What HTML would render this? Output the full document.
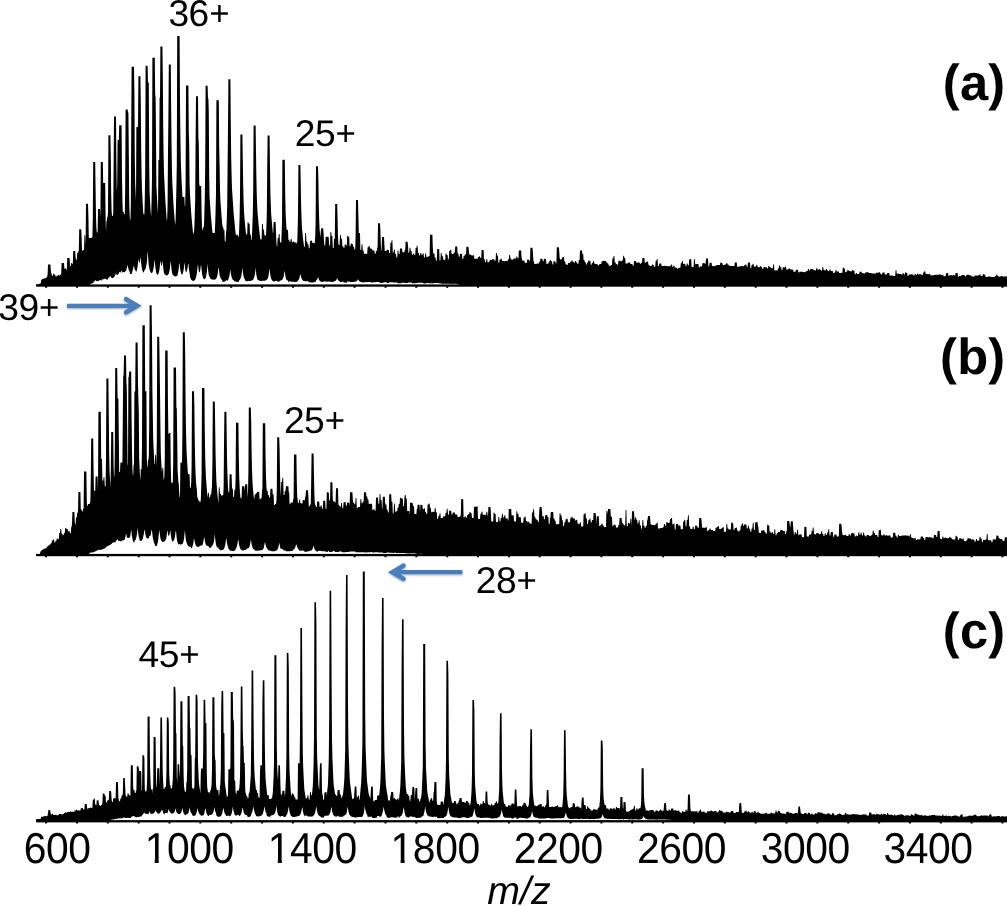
<!DOCTYPE html>
<html lang="en"><head><meta charset="utf-8"><title>Mass spectra</title><style>html,body{margin:0;padding:0;background:#fff}svg{display:block}</style></head><body><svg width="1007" height="906" viewBox="0 0 1007 906">
<defs><filter id="sh" x="-20%" y="-60%" width="140%" height="260%"><feGaussianBlur in="SourceAlpha" stdDeviation="1.2" result="b"/><feOffset in="b" dx="0" dy="1.2" result="o"/><feComponentTransfer in="o" result="o2"><feFuncA type="linear" slope="0.35"/></feComponentTransfer><feMerge><feMergeNode in="o2"/><feMergeNode in="SourceGraphic"/></feMerge></filter></defs>
<rect width="1007" height="906" fill="#fff"/>
<path d="M36.0 284.4L37.6 284.4L38.0 284.3L38.4 284.2L38.8 284.0L39.2 283.9L39.6 283.8L40.0 283.6L40.4 283.5L40.8 283.4L41.2 279.8L42.0 279.8L42.4 279.0L43.2 279.0L43.6 278.4L44.4 278.4L44.8 278.3L45.6 278.3L46.0 277.6L46.8 277.6L47.2 276.5L47.6 274.6L48.0 264.5L50.4 264.5L50.8 269.7L51.2 272.8L51.6 274.3L52.0 275.3L52.4 275.9L52.8 275.9L53.2 273.8L54.0 273.8L54.4 274.7L55.2 274.7L55.6 276.5L56.4 276.5L56.8 275.8L57.6 275.8L58.0 275.1L58.8 275.1L59.2 275.4L60.0 275.4L60.4 274.4L60.8 274.4L61.2 273.8L61.6 263.0L64.0 263.0L64.4 268.6L64.8 269.3L65.2 268.2L66.0 268.2L66.4 269.9L66.8 269.9L67.2 258.0L69.6 258.0L70.0 265.0L70.4 266.2L70.8 266.2L71.2 263.0L72.0 263.0L72.4 264.2L72.8 264.2L73.2 251.0L75.2 251.0L75.6 256.9L76.0 259.7L76.8 259.7L77.2 252.8L78.0 252.8L78.4 251.2L78.8 251.2L79.2 229.2L81.2 229.2L81.6 236.5L82.0 250.1L82.4 251.1L82.8 251.1L83.2 250.0L84.0 250.0L84.4 235.3L85.2 235.3L85.6 245.2L86.0 203.8L88.0 203.8L88.4 216.3L88.8 237.4L89.2 238.0L91.2 238.0L91.6 237.4L92.4 237.4L92.8 218.4L93.2 162.1L95.2 162.1L95.6 189.1L96.0 215.8L96.4 228.0L96.8 232.3L97.2 232.3L97.6 232.9L98.0 209.0L100.0 209.0L100.4 217.7L100.8 162.1L102.8 162.1L103.2 183.0L105.2 183.0L105.6 217.9L106.0 232.0L106.4 221.0L106.8 221.0L107.2 217.0L107.6 217.0L108.0 212.7L108.4 135.3L110.4 135.3L110.8 156.6L111.2 194.9L111.6 210.5L112.0 216.0L112.8 216.0L113.2 213.7L113.6 168.5L114.0 116.6L116.0 116.6L116.4 161.6L116.8 191.6L117.2 184.0L117.6 140.0L118.8 140.0L119.2 125.3L121.6 125.3L122.0 176.7L122.4 199.6L122.8 211.7L123.6 211.7L124.0 214.1L124.4 214.1L124.8 213.9L125.2 185.8L125.6 109.4L127.6 109.4L128.0 112.4L128.4 112.4L128.8 152.0L129.2 198.9L129.6 214.0L130.0 219.9L130.4 219.9L130.8 206.8L131.2 135.3L131.6 66.7L134.0 66.7L134.4 93.6L134.8 156.3L135.2 183.7L135.6 192.2L136.0 200.6L136.4 127.0L138.0 127.0L138.4 76.3L140.4 76.3L140.8 101.9L141.2 150.6L141.6 174.6L142.0 189.4L142.4 197.2L142.8 205.0L143.2 212.4L143.6 214.2L144.0 214.2L144.4 214.3L144.8 198.5L145.2 171.7L145.6 65.7L147.6 65.7L148.0 82.6L148.8 82.6L149.2 164.1L149.6 191.7L150.0 199.6L150.4 207.6L150.8 213.2L151.2 216.1L151.6 199.5L152.0 178.5L152.4 57.8L154.8 57.8L155.2 95.5L155.6 95.5L156.0 135.8L156.4 185.3L156.8 193.3L157.2 201.3L157.6 208.0L158.0 213.5L158.4 160.0L159.2 160.0L159.6 97.5L160.0 97.5L160.4 46.5L162.4 46.5L162.8 73.2L163.2 125.6L163.6 154.5L164.0 173.2L164.4 181.3L164.8 189.4L165.2 197.5L165.6 204.3L166.0 209.9L166.4 215.5L166.8 221.1L167.2 218.7L167.6 204.1L168.0 150.7L168.4 117.4L168.8 64.4L170.8 64.4L171.2 114.5L171.6 147.2L172.0 171.7L172.4 184.4L172.8 191.6L173.2 198.9L173.6 206.2L174.0 211.6L174.4 216.6L174.8 221.6L175.2 224.9L175.6 219.7L176.0 204.8L176.4 187.0L176.8 163.9L177.2 36.0L179.6 36.0L180.0 103.0L180.4 135.5L180.8 160.1L181.2 172.0L181.6 180.4L182.0 188.3L182.4 196.2L182.8 197.0L184.4 197.0L184.8 206.1L185.2 205.8L185.6 184.0L186.0 85.4L188.4 85.4L188.8 132.3L189.2 143.7L189.6 184.0L190.0 194.3L190.4 200.5L190.8 206.8L191.2 213.0L191.6 217.9L192.0 222.2L192.4 226.5L192.8 230.8L193.2 235.0L193.6 232.5L194.0 232.5L194.4 225.8L194.8 213.5L195.2 198.2L195.6 141.6L196.0 96.3L198.0 96.3L198.4 137.5L198.8 143.2L199.2 182.7L199.6 186.0L201.2 186.0L201.6 211.9L202.0 227.1L202.4 229.9L202.8 229.9L203.2 227.4L203.6 227.4L204.0 224.9L204.4 213.0L204.8 197.1L205.2 166.5L205.6 85.8L207.6 85.8L208.0 98.5L208.4 98.5L208.8 112.0L209.2 175.8L209.6 196.8L210.0 202.8L210.4 208.9L210.8 214.9L211.2 219.1L211.6 223.3L212.0 227.5L212.4 231.7L212.8 233.0L213.6 233.0L214.0 233.1L214.8 233.1L215.2 222.9L215.6 210.3L216.0 192.8L216.4 100.3L218.8 100.3L219.2 147.9L219.6 165.0L220.0 189.8L220.4 200.0L220.8 205.5L221.2 211.1L221.6 216.6L222.0 221.5L222.4 225.3L222.8 227.2L223.2 227.2L223.6 229.7L224.4 229.7L224.8 241.4L225.6 241.4L226.0 231.8L226.4 230.2L226.8 218.8L227.2 205.3L227.6 166.0L228.0 127.0L228.4 79.3L230.4 79.3L230.8 122.9L231.2 158.3L231.6 174.6L232.0 188.5L232.4 194.5L232.8 200.6L233.2 206.7L233.6 212.7L234.0 216.9L234.4 221.1L234.8 225.2L235.2 229.4L235.6 233.6L236.0 235.2L236.4 235.2L236.8 234.5L237.6 234.5L238.0 236.4L238.8 236.4L239.2 229.0L239.6 217.6L240.0 194.7L240.4 134.5L242.4 134.5L242.8 159.7L243.2 185.1L243.6 201.1L244.0 211.5L244.4 217.3L244.8 221.6L245.2 226.0L245.6 230.3L246.0 233.6L246.4 234.4L247.2 234.4L247.6 222.3L248.4 222.3L248.8 223.7L249.6 223.7L250.0 234.6L250.8 234.6L251.2 239.9L251.6 239.9L252.0 234.8L252.4 225.3L252.8 213.4L253.2 189.1L253.6 125.6L255.6 125.6L256.0 152.1L256.4 178.6L256.8 195.7L257.2 206.6L257.6 213.0L258.0 217.5L258.4 222.1L258.8 226.6L259.2 230.4L259.6 233.6L260.0 236.7L260.4 239.8L260.8 239.3L261.6 239.3L262.0 223.9L262.8 223.9L263.2 229.7L264.0 229.7L264.4 235.3L265.2 235.3L265.6 235.6L266.0 235.6L266.4 227.0L266.8 215.4L267.2 170.1L267.6 135.5L269.6 135.5L270.0 167.1L270.4 192.8L270.8 204.6L271.2 214.7L271.6 219.1L272.0 223.5L272.4 227.9L272.8 232.3L273.2 233.3L273.6 222.0L275.6 222.0L276.0 232.0L276.4 241.6L276.8 246.4L277.2 246.4L277.6 238.3L278.4 238.3L278.8 234.0L279.6 234.0L280.0 242.3L280.8 242.3L281.2 243.5L281.6 234.6L282.0 222.8L282.4 159.8L284.8 159.8L285.2 192.4L285.6 211.7L286.0 220.8L286.4 227.5L286.8 229.8L287.2 230.1L288.0 230.1L288.4 239.7L289.2 239.7L289.6 241.8L290.4 241.8L290.8 239.1L291.6 239.1L292.0 242.2L292.8 242.2L293.2 241.5L294.0 241.5L294.4 242.5L295.2 242.5L295.6 242.6L296.4 242.6L296.8 243.9L297.2 242.3L297.6 232.4L298.0 213.9L298.4 164.9L300.4 164.9L300.8 185.9L301.2 208.0L301.6 219.8L302.0 228.5L302.4 232.3L302.8 236.1L303.2 239.9L303.6 243.3L304.0 245.9L304.4 247.1L304.8 247.1L305.2 232.9L306.0 232.9L306.4 241.5L307.2 241.5L307.6 244.2L308.4 244.2L308.8 248.3L309.6 248.3L310.0 241.1L310.8 241.1L311.2 240.6L312.0 240.6L312.4 242.9L313.2 242.9L313.6 243.0L314.8 243.0L315.2 236.8L315.6 222.3L316.0 166.3L318.0 166.3L318.4 179.5L318.8 205.6L319.2 219.9L319.6 229.2L320.0 233.2L320.4 237.3L320.8 231.4L321.2 228.3L323.2 228.3L323.6 233.5L324.0 240.0L324.4 245.6L325.2 245.6L325.6 237.3L326.0 236.8L328.4 236.8L328.8 238.8L329.2 245.6L330.0 245.6L330.4 232.1L331.2 232.1L331.6 236.0L332.4 236.0L332.8 247.9L333.6 247.9L334.0 239.1L334.4 239.1L334.8 238.5L335.2 204.1L337.2 204.1L337.6 219.5L338.0 236.6L338.4 243.5L338.8 245.1L339.6 245.1L340.0 234.9L340.8 234.9L341.2 238.7L342.0 238.7L342.4 246.2L343.2 246.2L343.6 247.7L344.4 247.7L344.8 244.3L345.6 244.3L346.0 245.5L346.8 245.5L347.2 236.1L348.0 236.1L348.4 236.7L349.2 236.7L349.6 246.2L350.4 246.2L350.8 243.6L351.6 243.6L352.0 243.9L352.8 243.9L353.2 246.7L354.0 246.7L354.4 249.4L355.2 249.4L355.6 236.4L356.0 200.1L358.0 200.1L358.4 216.5L358.8 232.8L359.2 233.0L360.0 233.0L360.4 250.0L361.2 250.0L361.6 244.3L362.4 244.3L362.8 250.4L363.6 250.4L364.0 253.8L366.0 253.8L366.4 253.9L367.2 253.9L367.6 247.3L368.4 247.3L368.8 245.9L369.6 245.9L370.0 248.5L370.8 248.5L371.2 248.7L372.0 248.7L372.4 250.5L373.2 250.5L373.6 250.6L374.4 250.6L374.8 253.7L375.6 253.7L376.0 251.0L376.8 251.0L377.2 247.6L377.6 247.6L378.0 223.3L380.0 223.3L380.4 229.9L380.8 243.1L381.2 250.6L381.6 250.6L382.0 237.0L384.0 237.0L384.4 244.7L384.8 250.9L385.2 250.9L385.6 251.1L386.4 251.1L386.8 249.8L387.6 249.8L388.0 250.0L388.8 250.0L389.2 252.9L390.0 252.9L390.4 243.1L391.2 243.1L391.6 240.2L392.4 240.2L392.8 252.6L393.6 252.6L394.0 249.4L394.8 249.4L395.2 254.1L396.0 254.1L396.4 257.6L397.2 257.6L397.6 250.5L398.4 250.5L398.8 253.9L399.6 253.9L400.0 248.5L400.8 248.5L401.2 248.5L402.0 248.5L402.4 252.2L403.2 252.2L403.6 252.3L404.4 252.3L404.8 250.0L405.2 250.0L405.6 241.8L407.6 241.8L408.0 245.4L408.4 252.7L409.2 252.7L409.6 247.8L410.4 247.8L410.8 251.0L411.6 251.0L412.0 254.8L412.8 254.8L413.2 253.4L414.0 253.4L414.4 254.9L415.2 254.9L415.6 247.9L416.4 247.9L416.8 245.7L417.6 245.7L418.0 252.9L418.8 252.9L419.2 255.6L420.0 255.6L420.4 252.9L421.2 252.9L421.6 255.1L422.4 255.1L422.8 253.2L423.6 253.2L424.0 257.6L424.8 257.6L425.2 253.5L426.0 253.5L426.4 256.9L427.2 256.9L427.6 256.8L428.4 256.8L428.8 256.0L429.6 256.0L430.0 234.8L432.4 234.8L432.8 247.1L433.2 253.3L433.6 253.4L434.4 253.4L434.8 257.5L435.6 257.5L436.0 260.8L436.8 260.8L437.2 249.0L438.0 249.0L438.4 249.1L439.2 249.1L439.6 260.6L440.4 260.6L440.8 253.1L441.6 253.1L442.0 256.0L442.8 256.0L443.2 259.6L444.0 259.6L444.4 260.1L445.2 260.1L445.6 253.4L446.4 253.4L446.8 254.9L447.6 254.9L448.0 259.2L448.8 259.2L449.2 251.0L450.0 251.0L450.4 249.8L451.2 249.8L451.6 253.9L452.4 253.9L452.8 253.9L453.6 253.9L454.0 252.5L454.8 252.5L455.2 246.4L456.0 246.4L456.4 246.4L457.2 246.4L457.6 253.6L458.4 253.6L458.8 256.8L459.6 256.8L460.0 253.8L460.8 253.8L461.2 253.9L462.0 253.9L462.4 259.1L463.2 259.1L463.6 256.3L464.4 256.3L464.8 254.4L465.6 254.4L466.0 254.1L466.4 246.7L468.4 246.7L468.8 249.7L469.2 254.9L469.6 254.2L470.4 254.2L470.8 255.3L471.6 255.3L472.0 255.6L472.8 255.6L473.2 255.2L474.0 255.2L474.4 259.1L475.2 259.1L475.6 258.5L476.4 258.5L476.8 258.7L477.6 258.7L478.0 257.1L478.8 257.1L479.2 256.3L480.0 256.3L480.4 258.0L481.2 258.0L481.6 250.1L482.4 250.1L482.8 250.1L483.6 250.1L484.0 259.3L484.8 259.3L485.2 262.2L486.0 262.2L486.4 259.1L487.2 259.1L487.6 262.5L488.4 262.5L488.8 261.4L489.6 261.4L490.0 259.8L492.0 259.9L492.4 259.0L493.2 259.0L493.6 259.5L494.4 259.5L494.8 260.7L495.6 260.7L496.0 253.0L496.8 253.0L497.2 255.8L498.0 255.8L498.4 262.7L499.2 262.7L499.6 259.7L500.4 259.7L500.8 258.4L501.6 258.4L502.0 260.9L504.0 260.9L504.4 261.3L505.2 261.3L505.6 261.0L507.6 261.0L508.0 259.2L508.8 259.2L509.2 254.8L510.0 254.8L510.4 258.5L511.2 258.5L511.6 260.0L512.4 260.0L512.8 259.2L513.6 259.2L514.0 258.6L516.0 258.6L516.4 256.5L517.2 256.5L517.6 258.6L518.4 258.6L518.8 250.6L521.2 250.6L521.6 258.1L522.0 259.1L522.4 260.8L523.2 260.8L523.6 260.4L524.4 260.4L524.8 262.8L526.8 262.9L527.2 259.6L529.2 259.7L529.6 261.2L530.0 261.2L530.4 247.7L532.4 247.7L532.8 250.6L533.2 257.2L533.6 261.7L534.0 261.7L534.4 263.9L536.4 263.9L536.8 263.5L538.8 263.6L539.2 261.7L540.0 261.7L540.4 258.7L541.2 258.7L541.6 258.8L542.4 258.8L542.8 261.3L543.6 261.3L544.0 258.8L544.8 258.8L545.2 258.9L546.0 258.9L546.4 263.8L548.4 263.8L548.8 261.4L549.6 261.4L550.0 259.9L550.8 259.9L551.2 261.2L552.0 261.2L552.4 264.6L553.2 264.6L553.6 261.1L554.4 261.1L554.8 261.8L555.6 261.8L556.0 264.1L556.4 263.1L556.8 247.3L558.8 247.3L559.2 250.3L559.6 257.0L560.0 259.4L560.4 259.4L560.8 259.5L561.6 259.5L562.0 257.4L562.8 257.4L563.2 256.9L564.0 256.9L564.4 261.4L565.2 261.4L565.6 264.2L566.4 264.2L566.8 264.9L567.6 264.9L568.0 262.9L570.0 262.9L570.4 261.8L571.2 261.8L571.6 260.5L572.4 260.5L572.8 261.7L573.6 261.7L574.0 262.7L574.8 262.7L575.2 261.0L576.0 261.0L576.4 262.5L577.2 262.5L577.6 264.0L578.4 264.0L578.8 260.0L579.6 260.0L580.0 250.6L582.0 250.6L582.4 254.0L583.2 254.0L583.6 260.1L584.4 260.1L584.8 262.1L585.6 262.1L586.0 264.5L586.8 264.5L587.2 262.5L588.0 262.5L588.4 260.5L589.2 260.5L589.6 261.0L590.4 261.0L590.8 264.7L591.6 264.7L592.0 263.1L592.8 263.1L593.2 261.3L594.0 261.3L594.4 263.7L595.2 263.7L595.6 264.0L596.4 264.0L596.8 264.3L597.6 264.3L598.0 265.4L598.8 265.4L599.2 264.2L600.0 264.2L600.4 263.9L601.2 263.9L601.6 261.6L602.4 261.6L602.8 260.8L603.6 260.8L604.0 261.0L606.0 261.1L606.4 262.4L607.2 262.4L607.6 263.5L608.4 263.5L608.8 265.7L610.8 265.8L611.2 265.0L612.0 265.0L612.4 258.4L613.2 258.4L613.6 256.1L614.4 256.1L614.8 262.6L615.6 262.6L616.0 263.9L616.8 263.9L617.2 264.8L618.0 264.8L618.4 260.8L620.4 260.8L620.8 261.2L621.6 261.2L622.0 260.4L622.8 260.4L623.2 255.8L624.0 255.8L624.4 258.0L625.2 258.0L625.6 263.5L627.6 263.6L628.0 262.5L630.0 262.5L630.4 264.1L632.4 264.1L632.8 265.8L633.6 265.8L634.0 260.9L634.8 260.9L635.2 261.3L636.0 261.3L636.4 262.7L637.2 262.7L637.6 262.6L638.4 262.6L638.8 262.4L639.6 262.4L640.0 263.7L640.8 263.7L641.2 262.8L642.0 262.8L642.4 258.0L643.2 258.0L643.6 258.0L644.4 258.0L644.8 262.7L645.6 262.7L646.0 262.0L646.8 262.0L647.2 261.6L648.0 261.6L648.4 264.8L649.2 264.8L649.6 265.9L651.6 265.9L652.0 264.5L652.8 264.5L653.2 265.2L654.0 265.2L654.4 267.1L655.2 267.1L655.6 261.1L656.4 261.1L656.8 259.1L657.6 259.1L658.0 266.1L658.8 266.1L659.2 263.6L661.2 263.6L661.6 266.0L663.6 266.0L664.0 265.7L664.8 265.7L665.2 266.1L668.8 266.2L669.6 266.2L670.0 265.8L670.8 265.8L671.2 264.6L672.0 264.6L672.4 267.1L673.2 267.1L673.6 265.6L674.4 265.6L674.8 267.4L675.6 267.4L676.0 267.8L676.8 267.8L677.2 268.8L678.0 268.8L678.4 268.1L679.2 268.1L679.6 267.7L680.4 267.7L680.8 263.2L681.6 263.2L682.0 260.9L682.8 260.9L683.2 264.0L684.0 264.0L684.4 263.8L685.2 263.8L685.6 265.9L686.4 265.9L686.8 263.5L687.6 263.5L688.0 265.3L688.8 265.3L689.2 259.5L690.0 259.5L690.4 259.0L691.2 259.0L691.6 267.1L693.6 267.1L694.0 259.2L694.8 259.2L695.2 264.3L696.0 264.3L696.4 264.1L698.4 264.1L698.8 267.5L699.6 267.5L700.0 266.2L700.8 266.2L701.2 266.5L702.0 266.5L702.4 263.2L703.2 263.2L703.6 263.0L704.4 263.0L704.8 263.7L705.6 263.7L706.0 258.6L706.8 258.6L707.2 258.5L708.0 258.5L708.4 266.3L709.2 266.3L709.6 262.8L710.4 262.8L710.8 262.7L711.6 262.7L712.0 266.0L712.8 266.0L713.2 266.2L714.0 266.2L714.4 266.0L715.2 266.0L715.6 265.5L716.4 265.5L716.8 265.1L717.6 265.1L718.0 265.0L718.8 265.0L719.2 264.9L720.0 264.9L720.4 262.4L721.2 262.4L721.6 263.0L722.4 263.0L722.8 265.2L723.6 265.2L724.0 264.7L724.8 264.7L725.2 264.6L726.0 264.6L726.4 262.9L727.2 262.9L727.6 264.4L728.4 264.4L728.8 265.6L729.6 265.6L730.0 266.0L733.2 266.0L733.6 266.1L734.4 266.1L734.8 262.4L735.6 262.4L736.0 262.5L736.8 262.5L737.2 267.1L738.0 267.1L738.4 266.5L739.2 266.5L739.6 266.6L740.4 266.6L740.8 265.9L742.8 265.9L743.2 266.3L744.0 266.3L744.4 265.0L745.2 265.0L745.6 264.6L746.4 264.6L746.8 266.7L747.6 266.7L748.0 262.5L748.8 262.5L749.2 262.6L750.0 262.6L750.4 268.2L751.2 268.2L751.6 265.1L752.4 265.1L752.8 263.7L753.6 263.7L754.0 266.7L754.8 266.7L755.2 266.5L756.0 266.5L756.4 264.8L757.2 264.8L757.6 267.1L758.4 267.1L758.8 267.2L759.6 267.2L760.0 266.2L760.8 266.2L761.2 267.0L762.0 267.0L762.4 268.9L763.2 268.9L763.6 266.9L764.4 266.9L764.8 267.2L765.6 267.2L766.0 267.3L766.8 267.3L767.2 268.4L768.0 268.4L768.4 265.9L769.2 265.9L769.6 267.0L770.4 267.0L770.8 268.0L771.6 268.0L772.0 268.3L772.8 268.3L773.2 264.6L774.0 264.6L774.4 270.5L775.2 270.5L775.6 270.3L776.4 270.3L776.8 270.4L777.6 270.4L778.0 268.2L778.8 268.2L779.2 265.5L780.0 265.5L780.4 267.2L781.2 267.2L781.6 270.2L782.4 270.2L782.8 267.3L783.6 267.3L784.0 267.5L784.8 267.5L785.2 266.6L786.0 266.6L786.4 269.8L787.2 269.8L787.6 269.3L788.4 269.3L788.8 268.2L789.6 268.2L790.0 269.3L790.8 269.3L791.2 269.6L792.0 269.6L792.4 269.7L793.2 269.7L793.6 272.1L794.4 272.1L794.8 271.6L795.6 271.6L796.0 269.7L796.8 269.7L797.2 269.8L798.0 269.8L798.4 272.5L799.2 272.5L799.6 271.7L802.8 271.7L803.2 272.1L805.2 272.2L805.6 271.6L806.4 271.6L806.8 271.0L807.6 271.0L808.0 268.9L808.8 268.9L809.2 270.4L810.0 270.4L810.4 269.0L811.2 269.0L811.6 269.0L812.4 269.0L812.8 269.6L813.6 269.6L814.0 270.3L814.8 270.3L815.2 270.4L816.0 270.4L816.4 267.9L817.2 267.9L817.6 269.9L818.4 269.9L818.8 269.0L819.6 269.0L820.0 269.8L820.8 269.8L821.2 270.8L822.0 270.8L822.4 267.0L823.2 267.0L823.6 270.1L824.4 270.1L824.8 270.4L825.6 270.4L826.0 269.0L826.8 269.0L827.2 270.4L828.0 270.4L828.4 271.2L829.2 271.2L829.6 269.2L830.4 269.2L830.8 271.1L831.6 271.1L832.0 271.0L832.8 271.0L833.2 272.9L834.0 272.9L834.4 272.4L835.2 272.4L835.6 269.9L836.4 269.9L836.8 271.4L838.8 271.4L839.2 272.9L840.0 272.9L840.4 273.0L841.2 273.0L841.6 272.7L842.4 272.7L842.8 267.4L843.6 267.4L844.0 268.6L844.8 268.6L845.2 272.2L846.0 272.2L846.4 271.4L847.2 271.4L847.6 269.7L848.4 269.7L848.8 271.0L849.6 271.0L850.0 271.2L850.8 271.2L851.2 271.3L852.0 271.3L852.4 270.0L853.2 270.0L853.6 270.8L854.4 270.8L854.8 274.3L855.6 274.3L856.0 273.1L856.8 273.1L857.2 273.9L858.0 273.9L858.4 274.1L859.2 274.1L859.6 271.7L860.4 271.7L860.8 271.8L861.6 271.8L862.0 273.2L862.8 273.2L863.2 273.3L864.0 273.3L864.4 273.5L865.2 273.5L865.6 272.3L866.4 272.3L866.8 272.3L867.6 272.3L868.0 272.6L868.8 272.6L869.2 273.0L870.0 273.0L870.4 273.0L871.2 273.0L871.6 273.4L872.4 273.4L872.8 273.5L873.6 273.5L874.0 273.4L874.8 273.4L875.2 273.4L876.0 273.4L876.4 272.5L877.2 272.5L877.6 273.0L878.4 273.0L878.8 272.0L879.6 272.0L880.0 273.4L880.8 273.4L881.2 274.4L882.0 274.4L882.4 272.7L883.2 272.7L883.6 272.2L884.4 272.2L884.8 274.4L886.8 274.5L887.2 272.9L888.0 272.9L888.4 273.0L889.2 273.0L889.6 275.4L892.8 275.4L893.2 275.9L895.2 275.9L895.6 270.3L896.4 270.3L896.8 273.7L897.6 273.7L898.0 273.5L898.8 273.5L899.2 273.9L900.0 273.9L900.4 274.1L901.2 274.1L901.6 274.8L902.4 274.8L902.8 273.0L903.6 273.0L904.0 274.4L904.8 274.4L905.2 272.3L906.0 272.3L906.4 273.0L907.2 273.0L907.6 275.9L908.4 275.9L908.8 274.4L910.8 274.4L911.2 274.3L912.0 274.3L912.4 274.4L913.2 274.4L913.6 275.4L914.4 275.4L914.8 273.9L915.6 273.9L916.0 274.9L916.8 274.9L917.2 273.5L918.0 273.5L918.4 274.5L919.2 274.5L919.6 274.1L920.4 274.1L920.8 274.4L921.6 274.4L922.0 275.1L922.8 275.1L923.2 272.6L924.0 272.6L924.4 271.2L925.2 271.2L925.6 273.7L926.4 273.7L926.8 274.1L927.6 274.1L928.0 274.2L928.8 274.2L929.2 274.1L930.0 274.1L930.4 275.2L931.2 275.2L931.6 275.4L932.4 275.4L932.8 275.3L933.6 275.3L934.0 274.9L934.8 274.9L935.2 274.7L937.2 274.7L937.6 274.8L938.4 274.8L938.8 274.5L940.8 274.5L941.2 275.3L942.0 275.3L942.4 274.8L943.2 274.8L943.6 276.3L945.6 276.3L946.0 273.2L946.8 273.2L947.2 273.0L948.0 273.0L948.4 275.8L949.2 275.8L949.6 275.3L950.4 275.3L950.8 274.9L951.6 274.9L952.0 275.6L952.8 275.6L953.2 274.7L954.0 274.7L954.4 275.6L955.2 275.6L955.6 273.1L957.6 273.1L958.0 276.7L958.8 276.7L959.2 276.0L961.2 276.1L961.6 275.1L962.4 275.1L962.8 274.9L963.6 274.9L964.0 275.2L964.8 275.2L965.2 276.6L966.0 276.6L966.4 275.0L967.2 275.0L967.6 274.4L968.4 274.4L968.8 275.3L970.8 275.3L971.2 276.2L972.0 276.2L972.4 276.4L973.2 276.4L973.6 276.7L974.4 276.7L974.8 275.5L975.6 275.5L976.0 275.6L978.0 275.7L978.4 275.3L979.2 275.3L979.6 274.6L980.4 274.6L980.8 276.1L981.6 276.1L982.0 275.8L982.8 275.8L983.2 274.1L984.0 274.1L984.4 274.7L985.2 274.7L985.6 277.0L987.6 277.0L988.0 276.6L988.8 276.6L989.2 276.5L990.0 276.5L990.4 276.8L991.2 276.8L991.6 277.1L992.4 277.1L992.8 276.9L994.8 276.9L995.2 275.9L996.0 275.9L996.4 274.6L997.2 274.6L997.6 276.1L998.4 276.1L998.8 276.8L999.6 276.8L1000.0 276.4L1000.8 276.4L1001.2 276.1L1002.0 276.1L1002.4 276.5L1004.4 276.5L1004.8 276.4L1006.8 276.4L1007.2 276.2L1007.2 286.0L458.8 286.0L458.4 283.9L457.6 283.9L457.2 283.9L455.2 283.8L454.8 283.7L454.0 283.7L453.6 283.7L452.8 283.7L452.4 283.9L450.0 283.8L449.2 283.8L448.8 283.7L445.6 283.7L445.2 283.7L442.8 283.7L442.0 283.7L441.6 283.5L439.6 283.5L439.2 283.1L437.2 283.0L436.8 283.0L433.6 283.0L433.2 283.5L432.4 283.5L432.0 283.3L428.8 283.3L428.4 283.0L426.4 283.0L426.0 283.5L424.0 283.5L423.6 283.2L422.8 283.2L422.4 282.8L418.0 282.8L417.6 283.0L415.6 283.0L415.2 283.3L412.0 283.3L411.6 282.6L410.8 282.6L410.4 282.6L408.4 282.6L408.0 282.9L407.2 282.9L406.8 283.1L404.8 283.1L404.4 282.8L402.4 282.8L402.0 282.9L401.2 282.9L400.8 283.2L397.6 283.2L397.2 282.6L394.0 282.6L393.6 282.5L392.8 282.5L392.4 282.3L389.2 282.3L388.8 282.9L388.0 282.9L387.6 283.0L386.8 283.0L386.4 282.3L384.4 282.3L384.0 282.6L383.2 282.6L382.8 282.9L379.6 282.8L379.2 282.0L376.0 282.0L375.6 282.3L373.6 282.3L373.2 282.6L371.2 282.6L370.8 281.9L367.6 281.9L367.2 282.3L366.4 282.3L366.0 282.0L365.2 282.0L364.8 282.3L364.0 282.3L363.6 282.4L362.4 282.3L361.6 282.3L361.2 282.0L360.8 281.9L360.4 281.8L360.0 281.6L359.6 281.4L359.2 281.1L358.8 280.6L358.4 279.9L358.0 279.0L357.6 279.9L357.2 280.5L356.8 280.9L356.4 281.2L356.0 281.5L355.6 281.6L355.2 281.7L354.8 281.8L354.4 281.8L354.0 282.1L352.4 282.1L349.6 282.1L349.2 281.6L347.2 281.5L346.8 282.8L346.0 282.8L345.6 282.5L343.6 282.5L343.2 281.6L342.4 281.6L342.0 282.1L341.2 282.1L340.8 282.0L340.4 281.9L340.0 281.8L339.6 281.5L339.2 281.3L338.8 281.0L338.4 280.6L338.0 280.0L337.6 279.2L337.2 277.9L336.8 279.1L336.4 279.8L336.0 280.4L335.6 280.7L335.2 281.0L334.8 281.2L334.4 281.3L334.0 281.4L333.6 281.8L332.8 281.9L331.6 281.9L331.2 281.8L329.2 281.8L328.8 281.6L328.0 281.6L327.6 281.8L326.8 281.8L326.4 281.5L323.6 281.5L323.2 281.5L322.8 282.0L322.0 281.9L321.6 281.8L321.2 281.7L320.8 281.6L320.4 281.5L320.0 281.2L319.6 280.8L319.2 280.1L318.8 279.2L318.4 277.8L318.0 276.9L317.6 278.4L317.2 279.5L316.8 279.8L316.4 280.3L316.0 280.6L315.6 282.0L315.2 282.2L314.8 282.3L314.4 282.1L314.0 282.2L313.6 282.2L313.2 282.5L311.2 282.6L310.8 282.3L310.0 282.3L309.6 282.2L308.8 282.2L308.4 281.3L306.4 281.2L306.0 281.3L305.2 281.3L304.8 281.2L304.4 281.1L304.0 281.0L303.6 280.9L303.2 280.7L302.8 280.4L302.4 279.8L302.0 279.3L301.6 278.5L301.2 277.3L300.8 275.7L300.4 273.4L300.0 275.7L299.6 277.3L299.2 278.5L298.8 279.5L298.4 280.1L298.0 280.5L297.6 281.3L297.2 281.5L296.8 281.7L296.4 281.9L296.0 282.0L295.2 282.0L294.4 282.1L294.0 281.7L290.8 281.7L290.4 281.2L289.6 281.1L289.2 282.2L288.8 282.1L288.4 282.0L288.0 280.7L287.6 280.5L287.2 280.1L286.8 280.4L286.4 279.6L286.0 278.6L285.6 277.0L285.2 274.8L284.8 271.6L284.4 271.6L284.0 274.8L283.6 277.1L283.2 277.7L282.8 278.7L282.4 279.4L282.0 279.8L281.6 280.2L281.2 280.4L280.8 280.5L280.4 280.6L280.0 280.7L279.6 281.5L278.8 281.6L278.4 281.7L277.6 281.7L277.2 280.9L275.2 280.8L274.8 281.6L274.4 281.5L274.0 281.5L273.6 281.4L273.2 281.2L272.8 281.0L272.4 280.7L272.0 280.2L271.6 279.6L271.2 278.8L270.8 277.4L270.4 275.5L270.0 272.7L269.6 268.8L269.2 270.9L268.8 274.3L268.4 276.6L268.0 278.2L267.6 278.5L267.2 279.2L266.8 279.7L266.4 280.1L266.0 280.3L265.6 280.5L265.2 280.6L264.8 280.7L264.4 280.7L262.0 280.8L261.6 281.1L260.8 281.1L260.4 280.9L260.0 280.8L259.6 280.7L259.2 280.6L258.8 280.3L258.4 280.0L258.0 280.4L257.6 279.7L257.2 278.6L256.8 277.1L256.4 275.0L256.0 271.9L255.6 267.5L255.2 271.9L254.8 275.0L254.4 276.4L254.0 277.8L253.6 278.7L253.2 279.4L252.8 279.9L252.4 280.2L252.0 280.4L251.6 280.5L251.2 280.6L250.8 280.9L250.0 281.0L247.6 281.0L247.2 281.4L246.8 281.3L246.4 281.2L246.0 281.0L245.6 280.8L245.2 280.5L244.8 279.3L244.4 278.6L244.0 277.7L243.6 276.3L243.2 274.4L242.8 271.6L242.4 267.5L242.0 271.6L241.6 274.4L241.2 276.5L240.8 277.8L240.4 278.8L240.0 279.5L239.6 279.9L239.2 280.2L238.8 281.7L238.4 281.9L238.0 282.0L237.6 282.1L236.8 282.2L236.4 281.6L235.2 281.5L234.8 281.5L234.4 281.4L234.0 280.5L233.6 280.3L233.2 280.1L232.8 279.7L232.4 279.1L232.0 278.3L231.6 277.1L231.2 275.3L230.8 272.9L230.4 269.4L230.0 271.5L229.6 274.7L229.2 276.7L228.8 278.1L228.4 279.2L228.0 279.9L227.6 280.4L227.2 280.7L226.8 280.2L226.4 280.3L226.0 280.4L225.6 280.9L224.8 280.9L224.4 282.0L223.6 281.9L223.2 281.8L222.8 281.7L222.4 281.5L222.0 279.9L221.6 279.6L221.2 279.2L220.8 278.5L220.4 277.6L220.0 276.3L219.6 274.9L219.2 272.1L218.8 268.0L218.4 267.9L218.0 271.7L217.6 274.4L217.2 276.2L216.8 277.4L216.4 278.3L216.0 278.9L215.6 279.3L215.2 279.6L214.8 279.4L214.4 279.6L214.0 279.7L212.8 279.6L212.4 279.5L212.0 279.5L211.6 279.3L211.2 279.2L210.8 278.9L210.4 278.5L210.0 277.9L209.6 277.1L209.2 275.9L208.8 275.2L208.4 272.6L208.0 268.9L207.6 263.5L207.2 268.8L206.8 272.5L206.4 275.0L206.0 276.8L205.6 277.9L205.2 278.7L204.8 279.1L204.4 279.3L204.0 279.1L203.6 278.8L203.2 278.1L202.8 277.1L202.4 275.6L202.0 273.4L201.6 269.6L201.2 265.5L200.8 265.4L200.4 269.2L200.0 271.4L199.6 272.3L199.2 272.6L198.8 271.3L198.4 268.5L198.0 264.0L197.6 266.7L197.2 270.8L196.8 273.8L196.4 275.8L196.0 277.3L195.6 278.9L195.2 279.6L194.8 280.1L194.4 280.5L194.0 280.7L193.6 280.9L192.8 280.8L192.4 280.7L192.0 280.3L191.6 280.0L191.2 279.7L190.8 278.7L190.4 277.9L190.0 276.8L189.6 273.3L189.2 271.2L188.8 268.3L188.4 264.1L188.0 264.1L187.6 267.8L187.2 270.0L186.8 271.3L186.4 271.7L186.0 272.5L185.6 271.2L185.2 268.8L184.8 265.0L184.4 262.6L184.0 267.2L183.6 270.0L183.2 272.0L182.8 273.4L182.4 274.3L182.0 274.6L181.6 274.4L181.2 273.5L180.8 272.3L180.4 270.4L180.0 267.7L179.6 263.4L179.2 263.4L178.8 267.9L178.4 271.0L178.0 273.1L177.6 274.8L177.2 275.9L176.8 276.6L176.4 275.9L176.0 276.2L175.6 276.4L174.8 276.3L174.4 276.2L174.0 275.9L173.6 275.6L173.2 275.0L172.8 275.1L172.4 273.9L172.0 272.2L171.6 269.6L171.2 266.1L170.8 261.1L170.4 263.6L170.0 267.6L169.6 270.3L169.2 272.1L168.8 273.4L168.4 274.2L168.0 274.7L167.6 275.1L167.2 275.3L166.8 275.5L166.4 275.5L166.0 275.4L165.6 275.0L165.2 274.6L164.8 273.9L164.4 274.6L164.0 273.0L163.6 270.8L163.2 266.9L162.8 263.1L162.4 260.7L162.0 264.5L161.6 265.9L161.2 265.4L160.8 262.6L160.4 260.5L160.0 265.1L159.6 268.6L159.2 271.0L158.8 272.8L158.4 273.8L158.0 274.5L157.6 274.7L157.2 274.7L156.8 274.2L156.4 273.2L156.0 271.6L155.6 269.2L155.2 265.7L154.8 260.7L154.4 260.7L154.0 265.7L153.6 268.0L153.2 270.1L152.8 271.6L152.4 272.4L152.0 273.0L151.6 273.3L151.2 272.8L150.8 272.6L150.4 272.1L150.0 270.8L149.6 269.5L149.2 267.5L148.8 265.6L148.4 261.2L148.0 254.9L147.6 250.7L147.2 258.1L146.8 263.3L146.4 265.0L146.0 267.2L145.6 268.7L145.2 269.3L144.8 270.0L144.4 270.3L144.0 272.5L143.6 272.4L143.2 272.0L142.8 271.6L142.4 270.5L142.0 269.0L141.6 266.7L141.2 263.6L140.8 259.4L140.4 256.7L140.0 261.1L139.6 263.0L139.2 263.0L138.8 260.8L138.4 259.0L138.0 263.2L137.6 266.5L137.2 268.8L136.8 270.5L136.4 271.5L136.0 272.0L135.6 270.5L135.2 270.2L134.8 269.4L134.4 268.0L134.0 266.0L133.6 266.1L133.2 268.5L132.8 270.1L132.4 271.3L132.0 273.2L131.6 273.7L131.2 274.1L130.8 274.1L130.4 274.1L130.0 273.8L129.6 271.6L129.2 271.0L128.8 270.2L128.4 268.5L128.0 266.9L127.6 264.5L127.2 266.8L126.8 268.3L126.4 269.4L126.0 270.7L125.6 271.3L125.2 271.6L124.8 272.1L124.4 272.3L124.0 272.3L123.6 272.1L123.2 272.0L122.8 271.7L122.4 273.1L122.0 272.1L121.6 270.7L121.2 270.8L120.8 272.0L120.4 272.4L120.0 272.4L119.6 271.6L119.2 272.2L118.8 273.3L118.4 274.1L118.0 274.6L117.6 275.1L117.2 275.1L116.8 274.8L116.4 274.4L116.0 273.3L115.6 274.0L115.2 275.2L114.8 275.9L114.4 276.5L114.0 277.4L113.6 277.6L113.2 277.8L112.8 278.2L112.4 278.1L112.0 278.0L111.6 277.9L111.2 277.4L110.8 276.6L110.4 275.9L110.0 276.4L109.6 276.8L109.2 277.3L108.8 277.5L108.4 277.7L108.0 279.4L107.6 279.4L107.2 279.4L106.8 279.6L106.4 279.5L106.0 279.2L105.6 279.0L105.2 278.4L104.8 278.4L104.4 279.0L104.0 279.3L103.6 279.4L103.2 279.3L102.8 278.8L102.4 279.5L102.0 280.1L101.6 280.4L101.2 280.6L100.8 280.2L100.4 280.1L100.0 280.0L99.6 280.3L99.2 280.5L98.8 280.7L98.4 280.9L98.0 280.9L97.6 281.0L97.2 281.2L96.8 281.2L96.4 281.0L96.0 281.1L95.6 280.6L95.2 280.0L94.8 280.8L94.4 281.3L94.0 281.7L93.6 282.5L93.2 282.8L92.8 282.9L92.4 283.3L92.0 283.4L91.6 283.5L91.2 283.8L90.4 283.8L90.0 286.0L36.0 286.0Z" fill="#000"/>
<rect x="36.2" y="284.4" width="971" height="2.3" fill="#000"/><rect x="45.1" y="285.5" width="2" height="2.3" fill="#000"/><rect x="76.0" y="285.5" width="2" height="2.3" fill="#000"/><rect x="106.8" y="285.5" width="2" height="2.3" fill="#000"/><rect x="137.7" y="285.5" width="2" height="2.3" fill="#000"/><rect x="168.5" y="285.5" width="2" height="2.3" fill="#000"/><rect x="199.3" y="285.5" width="2" height="2.3" fill="#000"/><rect x="230.2" y="285.5" width="2" height="2.3" fill="#000"/><rect x="261.1" y="285.5" width="2" height="2.3" fill="#000"/><rect x="291.9" y="285.5" width="2" height="2.3" fill="#000"/><rect x="322.8" y="285.5" width="2" height="2.3" fill="#000"/><rect x="353.6" y="285.5" width="2" height="2.3" fill="#000"/><rect x="384.5" y="285.5" width="2" height="2.3" fill="#000"/><rect x="415.3" y="285.5" width="2" height="2.3" fill="#000"/><rect x="446.2" y="285.5" width="2" height="2.3" fill="#000"/><rect x="477.0" y="285.5" width="2" height="2.3" fill="#000"/><rect x="507.9" y="285.5" width="2" height="2.3" fill="#000"/><rect x="538.7" y="285.5" width="2" height="2.3" fill="#000"/><rect x="569.6" y="285.5" width="2" height="2.3" fill="#000"/><rect x="600.4" y="285.5" width="2" height="2.3" fill="#000"/><rect x="631.2" y="285.5" width="2" height="2.3" fill="#000"/><rect x="662.1" y="285.5" width="2" height="2.3" fill="#000"/><rect x="693.0" y="285.5" width="2" height="2.3" fill="#000"/><rect x="723.8" y="285.5" width="2" height="2.3" fill="#000"/><rect x="754.7" y="285.5" width="2" height="2.3" fill="#000"/><rect x="785.5" y="285.5" width="2" height="2.3" fill="#000"/><rect x="816.4" y="285.5" width="2" height="2.3" fill="#000"/><rect x="847.2" y="285.5" width="2" height="2.3" fill="#000"/><rect x="878.1" y="285.5" width="2" height="2.3" fill="#000"/><rect x="908.9" y="285.5" width="2" height="2.3" fill="#000"/><rect x="939.8" y="285.5" width="2" height="2.3" fill="#000"/><rect x="970.6" y="285.5" width="2" height="2.3" fill="#000"/><rect x="1001.5" y="285.5" width="2" height="2.3" fill="#000"/>
<path d="M36.0 553.9L40.0 553.9L40.4 551.4L40.8 551.4L41.2 550.5L42.0 550.5L42.4 549.7L43.2 549.7L43.6 548.8L44.4 548.8L44.8 548.6L45.6 548.6L46.0 547.8L46.8 547.8L47.2 546.3L48.0 546.3L48.4 545.4L49.2 545.4L49.6 544.6L50.4 544.6L50.8 543.3L51.6 543.3L52.0 540.4L52.8 540.4L53.2 539.4L54.0 539.4L54.4 542.5L55.2 542.5L55.6 540.7L56.4 540.7L56.8 538.6L57.6 538.6L58.0 539.3L58.8 539.3L59.2 532.9L60.0 532.9L60.4 529.0L61.2 529.0L61.6 533.8L62.4 533.8L62.8 535.3L63.6 535.3L64.0 533.0L64.8 533.0L65.2 527.9L66.0 527.9L66.4 529.0L67.6 529.0L68.0 531.5L68.4 531.7L68.8 530.7L69.6 530.7L70.0 533.3L70.8 533.3L71.2 527.1L71.6 527.1L72.0 523.3L72.4 512.1L74.4 512.1L74.8 522.1L75.2 524.6L75.6 524.6L76.0 517.6L76.8 517.6L77.2 512.8L77.6 512.8L78.0 512.1L78.4 491.9L80.4 491.9L80.8 509.2L81.2 509.5L81.6 509.5L82.0 511.4L82.8 511.4L83.2 508.8L83.6 508.8L84.0 471.4L86.4 471.4L86.8 502.0L87.2 505.9L87.6 505.9L88.0 503.9L88.8 503.9L89.2 503.7L90.0 503.7L90.4 500.0L90.8 478.0L91.2 438.5L93.2 438.5L93.6 472.1L94.0 490.7L94.8 490.7L95.2 491.3L95.6 476.4L97.6 476.4L98.0 491.4L98.4 411.7L100.8 411.7L101.2 459.0L102.0 459.0L102.4 480.7L103.2 480.7L103.6 477.2L104.4 477.2L104.8 486.5L105.2 486.5L105.6 486.0L106.0 457.4L106.4 378.4L108.4 378.4L108.8 415.5L109.2 453.5L109.6 471.6L110.0 479.3L110.4 487.1L110.8 470.2L111.2 432.0L113.2 432.0L113.6 465.0L114.0 477.6L114.4 474.9L114.8 450.5L115.2 368.0L117.2 368.0L117.6 398.4L118.4 398.4L118.8 435.4L119.2 471.9L120.0 471.9L120.4 462.7L121.2 462.7L121.6 462.4L122.4 462.4L122.8 416.8L123.2 375.5L123.6 375.5L124.0 355.5L126.0 355.5L126.4 381.6L126.8 388.5L127.2 426.8L127.6 464.8L128.0 464.8L128.4 377.1L128.8 377.1L129.2 371.4L131.2 371.4L131.6 417.9L132.0 450.7L132.4 467.8L132.8 475.1L133.2 475.1L133.6 464.4L134.0 464.4L134.4 391.4L135.2 391.4L135.6 342.6L137.6 342.6L138.0 383.7L138.4 399.3L138.8 413.2L139.2 459.8L139.6 467.8L140.0 475.9L140.4 480.3L140.8 469.0L141.6 469.0L142.0 447.1L142.4 325.2L144.8 325.2L145.2 391.3L146.4 391.3L146.8 457.2L147.2 467.0L147.6 467.0L148.0 460.2L148.4 460.2L148.8 455.5L149.2 425.0L149.6 305.3L151.6 305.3L152.0 334.5L152.4 390.8L152.8 413.3L153.2 438.9L153.6 447.8L154.0 456.7L154.4 464.0L154.8 464.0L155.2 454.7L156.0 454.7L156.4 466.8L156.8 440.1L157.2 336.7L159.2 336.7L159.6 361.4L160.0 390.0L160.4 424.6L160.8 452.7L161.2 460.2L161.6 467.7L162.0 472.3L162.4 467.7L163.2 467.7L163.6 479.4L164.0 479.4L164.4 475.8L164.8 457.3L165.2 350.6L167.6 350.6L168.0 407.3L168.4 434.0L168.8 434.0L169.2 433.1L170.4 433.1L170.8 467.2L171.2 482.6L171.6 482.6L172.0 483.3L172.4 483.3L172.8 481.2L173.2 464.0L173.6 367.5L176.0 367.5L176.4 408.3L176.8 408.3L177.2 437.8L177.6 470.2L178.0 476.2L178.4 482.3L178.8 483.8L179.2 492.6L179.6 496.8L180.0 497.9L180.4 462.6L181.2 462.6L181.6 463.0L182.0 461.9L182.4 434.5L182.8 332.3L184.8 332.3L185.2 355.2L185.6 401.8L186.0 429.8L186.4 446.6L186.8 455.4L187.2 462.4L187.6 469.4L188.0 473.9L188.4 473.9L188.8 474.3L189.6 474.3L190.0 487.7L190.8 487.7L191.2 482.2L191.6 465.9L192.0 391.3L194.0 391.3L194.4 407.9L194.8 441.8L195.2 462.5L195.6 474.6L196.0 481.3L196.4 486.4L196.8 488.3L197.2 496.5L197.6 498.2L198.0 498.2L198.4 500.4L199.2 500.4L199.6 502.1L200.4 502.1L200.8 499.5L201.2 487.7L201.6 472.0L202.0 387.9L204.4 387.9L204.8 431.4L205.2 457.1L205.6 469.3L206.0 478.2L206.4 483.3L206.8 488.4L207.2 493.5L207.6 497.7L208.0 492.8L208.8 492.8L209.2 497.4L210.0 497.4L210.4 494.6L211.2 494.6L211.6 489.7L212.0 486.6L212.4 463.2L212.8 401.4L214.8 401.4L215.2 427.5L215.6 454.4L216.0 470.2L216.4 481.2L216.8 486.4L217.2 491.0L217.6 495.6L218.0 500.2L218.4 503.5L218.8 487.3L219.6 487.3L220.0 493.7L220.8 493.7L221.2 495.6L222.0 495.6L222.4 495.3L223.2 495.3L223.6 488.2L224.0 445.0L224.4 411.8L226.4 411.8L226.8 442.1L227.2 466.8L227.6 478.0L228.0 487.5L228.4 491.7L228.8 492.4L229.2 492.4L229.6 474.3L231.6 474.3L232.0 487.8L232.4 488.7L232.8 488.7L233.2 496.9L234.0 496.9L234.4 489.7L235.2 489.7L235.6 479.0L236.0 422.7L238.4 422.7L238.8 456.0L239.2 476.5L239.6 485.7L240.0 493.3L240.4 497.2L240.8 498.4L241.2 498.4L241.6 497.3L242.0 486.3L244.4 486.3L244.8 490.9L245.2 484.2L246.0 484.2L246.4 484.3L247.2 484.3L247.6 497.8L248.0 491.2L248.4 472.9L248.8 407.4L250.8 407.4L251.2 421.2L251.6 450.3L252.0 469.6L252.4 479.7L252.8 487.0L253.2 491.2L253.6 495.4L254.0 498.4L254.4 498.4L254.8 494.6L255.6 494.6L256.0 493.3L256.8 493.3L257.2 491.8L258.0 491.8L258.4 491.9L259.2 491.9L259.6 499.2L260.4 499.2L260.8 498.2L261.6 498.2L262.0 491.1L262.4 488.2L262.8 423.3L265.2 423.3L265.6 456.4L266.0 476.8L266.4 486.0L266.8 490.7L267.6 490.7L268.0 495.0L268.8 495.0L269.2 497.6L270.0 497.6L270.4 488.8L272.4 488.8L272.8 494.6L273.6 494.6L274.0 505.1L274.8 505.1L275.2 504.1L276.0 504.1L276.4 501.3L276.8 490.2L277.2 437.2L279.2 437.2L279.6 448.8L280.0 472.6L280.4 487.7L280.8 496.1L281.2 482.1L282.0 482.1L282.4 477.8L283.2 477.8L283.6 495.0L284.4 495.0L284.8 490.8L285.6 490.8L286.0 486.3L288.4 486.3L288.8 492.5L289.2 492.5L289.6 504.2L290.4 504.2L290.8 502.5L291.6 502.5L292.0 502.6L292.8 502.6L293.2 498.8L293.6 498.8L294.0 454.5L296.4 454.5L296.8 481.0L297.2 496.3L297.6 499.2L298.0 503.0L298.8 503.0L299.2 499.5L300.0 499.5L300.4 503.3L301.2 503.3L301.6 503.4L302.4 503.4L302.8 500.1L303.6 500.1L304.0 500.2L304.8 500.2L305.2 496.6L305.6 496.6L306.0 490.2L308.0 490.2L308.4 496.4L308.8 506.5L309.6 506.5L310.0 504.6L310.8 504.6L311.2 479.2L311.6 453.5L313.6 453.5L314.0 476.6L314.4 494.7L314.8 502.8L315.2 505.0L315.6 505.0L316.0 506.9L316.8 506.9L317.2 501.4L318.0 501.4L318.4 501.5L319.2 501.5L319.6 506.9L320.4 506.9L320.8 505.3L321.6 505.3L322.0 508.8L322.8 508.8L323.2 500.7L324.0 500.7L324.4 500.8L325.2 500.8L325.6 508.8L326.4 508.8L326.8 492.2L327.6 492.2L328.0 492.4L328.8 492.4L329.2 500.5L330.0 500.5L330.4 482.3L332.4 482.3L332.8 499.7L333.2 501.3L333.6 501.3L334.0 501.5L334.8 501.5L335.2 502.6L335.6 502.6L336.0 488.2L338.0 488.2L338.4 503.7L338.8 505.6L339.6 505.6L340.0 506.7L340.8 506.7L341.2 503.0L342.0 503.0L342.4 508.3L343.2 508.3L343.6 502.3L344.4 502.3L344.8 502.0L345.6 502.0L346.0 505.8L346.8 505.8L347.2 502.6L348.0 502.6L348.4 502.7L349.2 502.7L349.6 506.4L350.0 492.2L352.4 492.2L352.8 499.2L353.2 502.7L354.0 502.7L354.4 504.2L355.2 504.2L355.6 498.0L356.4 498.0L356.8 508.2L357.6 508.2L358.0 506.9L358.8 506.9L359.2 507.0L360.0 507.0L360.4 498.9L361.2 498.9L361.6 503.2L362.4 503.2L362.8 501.7L363.6 501.7L364.0 492.2L366.0 492.2L366.4 496.6L367.2 496.6L367.6 499.6L368.4 499.6L368.8 504.0L369.6 504.0L370.0 503.7L370.8 503.7L371.2 503.8L372.0 503.8L372.4 510.2L373.2 510.2L373.6 509.0L374.4 509.0L374.8 510.7L375.6 510.7L376.0 497.4L376.8 497.4L377.2 497.5L378.0 497.5L378.4 503.7L379.2 503.7L379.6 493.9L380.4 493.9L380.8 500.1L381.6 500.1L382.0 508.4L382.4 508.4L382.8 496.8L384.8 496.8L385.2 503.2L385.6 504.6L386.4 504.6L386.8 509.8L387.6 509.8L388.0 512.5L388.8 512.5L389.2 494.2L391.2 494.2L391.6 501.8L392.4 501.8L392.8 513.3L393.6 513.3L394.0 503.4L394.8 503.4L395.2 511.8L396.0 511.8L396.4 511.2L397.2 511.2L397.6 507.8L398.4 507.8L398.8 504.1L399.6 504.1L400.0 497.8L400.8 497.8L401.2 498.5L402.8 498.5L403.2 507.1L403.6 505.8L404.0 505.8L404.4 498.2L404.8 494.9L405.6 494.9L406.0 498.2L406.4 498.2L406.8 499.6L407.2 511.0L408.0 511.0L408.4 510.9L409.2 510.9L409.6 515.5L410.0 502.8L412.4 502.8L412.8 504.0L413.2 506.3L414.0 506.3L414.4 513.9L415.2 513.9L415.6 514.0L416.4 514.0L416.8 508.9L417.2 508.9L417.6 504.8L419.6 504.8L420.0 512.5L420.4 504.8L421.2 504.8L421.6 505.0L422.4 505.0L422.8 509.2L423.6 509.2L424.0 508.3L424.8 508.3L425.2 512.0L426.0 512.0L426.4 514.1L427.2 514.1L427.6 504.5L428.4 504.5L428.8 503.5L429.6 503.5L430.0 507.8L430.8 507.8L431.2 512.3L432.0 512.3L432.4 511.8L433.2 511.8L433.6 511.9L434.4 511.9L434.8 507.9L435.6 507.9L436.0 512.2L436.8 512.2L437.2 519.1L438.0 519.1L438.4 516.1L439.2 516.1L439.6 513.3L440.4 513.3L440.8 517.9L441.6 517.9L442.0 518.0L442.8 518.0L443.2 516.3L444.0 516.3L444.4 516.3L445.2 516.3L445.6 512.8L446.4 512.8L446.8 508.7L447.6 508.7L448.0 514.7L448.8 514.7L449.2 510.4L450.0 510.4L450.4 510.9L451.2 510.9L451.6 514.6L452.4 514.6L452.8 512.4L453.6 512.4L454.0 512.5L454.8 512.5L455.2 514.5L456.0 514.5L456.4 514.6L457.2 514.6L457.6 516.9L458.4 516.9L458.8 517.0L459.6 517.0L460.0 515.8L460.8 515.8L461.2 499.1L462.0 499.1L462.4 499.2L463.2 499.2L463.6 517.5L464.4 517.5L464.8 516.3L465.6 516.3L466.0 517.7L466.8 517.7L467.2 515.1L468.0 515.1L468.4 514.0L469.2 514.0L469.6 512.0L470.4 512.0L470.8 513.3L471.6 513.3L472.0 518.0L472.8 518.0L473.2 518.1L473.6 518.1L474.0 506.7L476.4 506.7L476.8 506.3L477.6 506.3L478.0 518.8L478.8 518.8L479.2 518.9L480.0 518.9L480.4 513.8L481.2 513.8L481.6 511.5L482.4 511.5L482.8 514.7L483.6 514.7L484.0 514.8L484.8 514.8L485.2 515.0L486.0 515.0L486.4 511.8L487.2 511.8L487.6 515.6L488.0 515.6L488.4 507.1L490.4 507.1L490.8 511.3L491.2 520.3L491.6 521.5L492.0 521.5L492.4 521.6L493.2 521.6L493.6 512.6L494.4 512.6L494.8 513.9L495.6 513.9L496.0 522.1L496.8 522.1L497.2 522.1L498.0 522.1L498.4 517.0L499.2 517.0L499.6 521.6L500.4 521.6L500.8 518.0L501.6 518.0L502.0 513.7L502.8 513.7L503.2 517.5L504.0 517.5L504.4 515.2L505.2 515.2L505.6 518.2L506.4 518.2L506.8 518.4L507.6 518.4L508.0 520.4L508.4 520.4L508.8 509.0L511.2 509.0L511.6 515.4L512.4 515.4L512.8 515.3L513.6 515.3L514.0 521.3L514.8 521.3L515.2 521.5L516.0 521.5L516.4 511.3L517.2 511.3L517.6 514.1L518.4 514.1L518.8 517.2L519.6 517.2L520.0 517.3L520.8 517.3L521.2 522.8L523.2 522.8L523.6 517.7L524.4 517.7L524.8 516.6L525.6 516.6L526.0 521.0L526.8 521.0L527.2 521.7L529.2 521.7L529.6 523.6L531.6 523.7L532.0 512.4L532.8 512.4L533.2 509.2L534.0 509.2L534.4 516.8L535.2 516.8L535.6 519.0L536.4 519.0L536.8 520.0L537.6 520.0L538.0 522.0L538.8 522.0L539.2 511.7L539.6 507.1L541.6 507.1L542.0 511.3L542.4 517.3L542.8 515.9L543.6 515.9L544.0 519.2L544.8 519.2L545.2 515.3L546.0 515.3L546.4 515.0L547.2 515.0L547.6 517.0L548.4 517.0L548.8 524.0L549.6 524.0L550.0 518.1L550.4 518.1L550.8 512.0L553.2 512.0L553.6 518.4L554.4 518.4L554.8 520.7L555.6 520.7L556.0 524.2L558.0 524.2L558.4 524.1L559.2 524.1L559.6 513.3L560.4 513.3L560.8 515.6L561.6 515.6L562.0 520.3L562.8 520.3L563.2 526.2L564.0 526.2L564.4 522.3L565.2 522.3L565.6 519.3L566.4 519.3L566.8 518.8L567.6 518.8L568.0 522.2L568.8 522.2L569.2 522.2L570.0 522.2L570.4 518.0L571.2 518.0L571.6 516.7L572.4 516.7L572.8 518.4L573.6 518.4L574.0 518.5L574.8 518.5L575.2 520.4L576.0 520.4L576.4 519.8L577.2 519.8L577.6 523.5L578.4 523.5L578.8 524.2L579.6 524.2L580.0 522.2L580.8 522.2L581.2 526.6L583.2 526.6L583.6 514.3L584.4 514.3L584.8 513.2L585.6 513.2L586.0 518.3L586.8 518.3L587.2 524.0L588.0 524.0L588.4 520.1L589.2 520.1L589.6 518.6L590.4 518.6L590.8 522.5L591.6 522.5L592.0 520.0L592.8 520.0L593.2 520.0L593.6 513.1L595.6 513.1L596.0 516.5L596.4 524.1L596.8 516.2L597.6 516.2L598.0 516.3L598.8 516.3L599.2 525.9L600.0 525.9L600.4 525.2L601.2 525.2L601.6 523.4L602.4 523.4L602.8 525.4L603.6 525.4L604.0 527.0L606.0 527.0L606.4 511.1L607.2 511.1L607.6 514.0L608.0 509.1L610.4 509.1L610.8 516.6L611.2 516.7L612.0 516.7L612.4 526.1L613.2 526.1L613.6 524.8L614.4 524.8L614.8 524.8L615.6 524.8L616.0 527.6L618.0 527.6L618.4 524.7L619.2 524.7L619.6 518.0L620.4 518.0L620.8 518.1L621.6 518.1L622.0 523.1L622.8 523.1L623.2 524.5L624.0 524.5L624.4 525.6L625.2 525.6L625.6 509.9L626.4 509.9L626.8 526.4L627.6 526.4L628.0 523.1L628.8 523.1L629.2 523.4L630.0 523.4L630.4 518.7L631.2 518.7L631.6 526.2L632.0 511.3L634.0 511.3L634.4 518.1L634.8 520.7L635.2 517.2L636.0 517.2L636.4 519.8L637.2 519.8L637.6 523.6L638.4 523.6L638.8 520.3L639.6 520.3L640.0 525.3L640.8 525.3L641.2 528.8L642.0 528.8L642.4 519.9L643.2 519.9L643.6 525.8L644.4 525.8L644.8 527.8L645.6 527.8L646.0 525.8L646.8 525.8L647.2 519.8L647.6 519.8L648.0 516.0L650.0 516.0L650.4 521.9L650.8 524.8L651.6 524.8L652.0 524.8L652.8 524.8L653.2 525.1L654.0 525.1L654.4 525.2L655.2 525.2L655.6 523.9L656.4 523.9L656.8 522.6L657.6 522.6L658.0 528.5L660.0 528.5L660.4 528.0L661.2 528.0L661.6 528.1L662.4 528.1L662.8 527.2L663.6 527.2L664.0 524.0L664.8 524.0L665.2 525.8L666.0 525.8L666.4 521.9L667.2 521.9L667.6 522.7L668.4 522.7L668.8 523.1L669.6 523.1L670.0 519.1L670.8 519.1L671.2 517.9L672.0 517.9L672.4 524.6L673.2 524.6L673.6 523.6L674.4 523.6L674.8 529.5L675.6 529.5L676.0 524.0L676.8 524.0L677.2 524.0L678.0 524.0L678.4 525.6L679.2 525.6L679.6 525.6L680.4 525.6L680.8 529.3L682.8 529.3L683.2 521.4L684.0 521.4L684.4 519.8L685.2 519.8L685.6 526.3L686.4 526.3L686.8 520.0L687.6 520.0L688.0 515.2L688.8 515.2L689.2 526.5L690.0 526.5L690.4 529.0L692.4 529.1L692.8 526.5L693.6 526.5L694.0 529.3L694.8 529.3L695.2 525.6L696.0 525.6L696.4 525.7L697.2 525.7L697.6 527.8L698.4 527.8L698.8 527.8L699.2 518.0L701.2 518.0L701.6 520.8L702.0 526.7L702.4 527.8L703.2 527.8L703.6 527.7L704.4 527.7L704.8 527.8L705.6 527.8L706.0 527.3L706.8 527.3L707.2 531.2L708.0 531.2L708.4 530.0L709.2 530.0L709.6 528.5L710.4 528.5L710.8 530.0L711.6 530.0L712.0 530.0L712.8 530.0L713.2 531.0L714.0 531.0L714.4 531.0L715.2 531.0L715.6 528.1L716.4 528.1L716.8 527.1L717.6 527.1L718.0 525.9L718.8 525.9L719.2 528.9L720.0 528.9L720.4 529.0L721.2 529.0L721.6 527.9L722.4 527.9L722.8 526.9L723.6 526.9L724.0 531.8L726.0 531.8L726.4 524.0L727.2 524.0L727.6 528.6L728.4 528.6L728.8 529.5L729.6 529.5L730.0 529.6L730.8 529.6L731.2 522.5L732.0 522.5L732.4 523.2L733.2 523.2L733.6 530.1L734.4 530.1L734.8 527.9L735.6 527.9L736.0 527.4L736.8 527.4L737.2 530.4L738.0 530.4L738.4 531.4L739.2 531.4L739.6 530.3L740.4 530.3L740.8 525.4L741.6 525.4L742.0 523.2L742.8 523.2L743.2 525.7L744.0 525.7L744.4 524.3L745.2 524.3L745.6 524.4L746.4 524.4L746.8 528.5L747.6 528.5L748.0 525.6L748.8 525.6L749.2 528.7L750.0 528.7L750.4 531.7L751.2 531.7L751.6 528.4L752.4 528.4L752.8 522.7L753.6 522.7L754.0 530.0L754.8 530.0L755.2 522.3L757.6 522.3L758.0 526.5L758.4 526.5L758.8 532.8L759.6 532.8L760.0 532.9L760.8 532.9L761.2 530.6L762.0 530.6L762.4 530.6L763.2 530.6L763.6 530.2L764.4 530.2L764.8 532.3L765.6 532.3L766.0 533.7L766.8 533.7L767.2 524.7L768.0 524.7L768.4 525.5L769.2 525.5L769.6 531.4L770.4 531.4L770.8 533.1L771.6 533.1L772.0 532.0L772.8 532.0L773.2 534.0L774.0 534.0L774.4 529.2L775.2 529.2L775.6 535.2L776.4 535.2L776.8 533.2L777.6 533.2L778.0 531.9L778.8 531.9L779.2 531.9L780.0 531.9L780.4 529.9L781.2 529.9L781.6 530.0L782.4 530.0L782.8 530.9L783.6 530.9L784.0 531.0L784.8 531.0L785.2 533.9L786.0 533.9L786.4 531.1L786.8 531.1L787.2 520.9L789.2 520.9L789.6 523.4L790.0 526.7L790.4 526.7L790.8 521.2L792.8 521.2L793.2 527.2L793.6 531.7L794.0 535.0L794.4 535.3L794.8 532.0L795.6 532.0L796.0 533.8L796.8 533.8L797.2 529.8L798.0 529.8L798.4 535.2L799.2 535.2L799.6 534.3L801.6 534.4L802.0 537.1L802.8 537.1L803.2 537.3L804.0 537.3L804.4 526.8L805.2 526.8L805.6 526.9L806.4 526.9L806.8 536.5L808.8 536.5L809.2 534.5L811.2 534.5L811.6 531.1L812.4 531.1L812.8 527.6L813.6 527.6L814.0 534.0L814.8 534.0L815.2 534.6L816.0 534.6L816.4 532.9L817.2 532.9L817.6 532.9L818.4 532.9L818.8 534.3L819.6 534.3L820.0 534.0L820.8 534.0L821.2 531.2L822.0 531.2L822.4 534.0L823.2 534.0L823.6 535.9L824.4 535.9L824.8 533.3L825.6 533.3L826.0 535.1L826.8 535.1L827.2 532.5L828.0 532.5L828.4 529.2L829.2 529.2L829.6 535.5L830.4 535.5L830.8 532.1L831.6 532.1L832.0 532.1L832.8 532.1L833.2 536.8L834.0 536.8L834.4 534.6L836.4 534.6L836.8 536.5L838.4 536.5L838.8 536.4L839.2 523.8L841.2 523.8L841.6 526.0L842.0 531.3L842.4 534.1L842.8 535.1L844.8 535.2L845.2 534.7L846.0 534.7L846.4 536.0L848.4 536.0L848.8 534.1L849.6 534.1L850.0 535.6L850.8 535.6L851.2 533.2L852.0 533.2L852.4 533.0L853.2 533.0L853.6 533.6L854.4 533.6L854.8 536.6L855.6 536.6L856.0 535.5L856.8 535.5L857.2 536.3L858.0 536.3L858.4 532.2L859.2 532.2L859.6 534.7L860.4 534.7L860.8 532.8L861.6 532.8L862.0 535.4L862.8 535.4L863.2 532.4L864.0 532.4L864.4 535.4L865.2 535.4L865.6 536.4L866.4 536.4L866.8 534.9L868.8 534.9L869.2 536.1L870.0 536.1L870.4 535.7L871.2 535.7L871.6 534.7L872.4 534.7L872.8 530.4L873.6 530.4L874.0 532.9L874.8 532.9L875.2 534.9L876.0 534.9L876.4 535.0L877.2 535.0L877.6 537.0L878.4 537.0L878.8 530.2L879.6 530.2L880.0 529.8L880.8 529.8L881.2 535.3L882.0 535.3L882.4 535.4L883.2 535.4L883.6 534.3L884.4 534.3L884.8 535.7L885.6 535.7L886.0 535.0L886.8 535.0L887.2 535.8L888.0 535.8L888.4 535.5L889.2 535.5L889.6 535.6L890.4 535.6L890.8 537.4L892.8 537.5L893.2 532.8L894.0 532.8L894.4 532.7L895.2 532.7L895.6 535.7L896.4 535.7L896.8 537.5L897.6 537.5L898.0 534.7L898.8 534.7L899.2 536.0L901.2 536.1L901.6 535.4L902.4 535.4L902.8 535.6L904.8 535.6L905.2 535.2L906.0 535.2L906.4 535.7L907.2 535.7L907.6 535.5L908.4 535.5L908.8 536.4L909.6 536.4L910.0 534.3L910.8 534.3L911.2 537.6L912.0 537.6L912.4 538.0L913.2 538.0L913.6 538.5L914.4 538.5L914.8 538.1L915.6 538.1L916.0 539.9L916.8 539.9L917.2 539.3L918.0 539.3L918.4 539.4L919.2 539.4L919.6 539.2L920.4 539.2L920.8 536.4L922.8 536.4L923.2 538.1L924.0 538.1L924.4 540.0L925.2 540.0L925.6 536.9L926.4 536.9L926.8 537.0L927.6 537.0L928.0 537.4L928.8 537.4L929.2 537.1L930.0 537.1L930.4 537.6L932.4 537.5L932.8 538.2L933.6 538.2L934.0 535.1L936.0 535.1L936.4 537.0L937.2 537.0L937.6 531.0L939.6 531.0L940.0 538.7L940.8 538.7L941.2 539.0L942.0 539.0L942.4 536.5L943.2 536.5L943.6 538.3L944.4 538.3L944.8 537.5L945.6 537.5L946.0 538.1L946.8 538.1L947.2 538.2L948.0 538.2L948.4 537.9L949.2 537.9L949.6 536.7L950.4 536.7L950.8 537.9L951.6 537.9L952.0 539.2L952.8 539.2L953.2 539.4L954.0 539.4L954.4 539.6L955.2 539.6L955.6 535.8L956.4 535.8L956.8 536.7L957.6 536.7L958.0 539.9L958.8 539.9L959.2 538.2L961.2 538.3L961.6 539.2L962.4 539.2L962.8 538.6L963.6 538.6L964.0 541.0L964.8 541.0L965.2 541.3L966.0 541.3L966.4 540.3L967.2 540.3L967.6 537.9L968.4 537.9L968.8 538.5L970.8 538.6L971.2 539.6L972.0 539.6L972.4 539.2L973.2 539.2L973.6 540.0L974.4 540.0L974.8 541.7L975.6 541.7L976.0 538.9L976.8 538.9L977.2 540.7L978.0 540.7L978.4 540.4L979.2 540.4L979.6 536.8L980.4 536.8L980.8 538.4L981.6 538.4L982.0 542.1L982.8 542.1L983.2 539.7L984.0 539.7L984.4 540.0L985.2 540.0L985.6 539.6L986.4 539.6L986.8 534.1L987.6 534.1L988.0 540.2L988.8 540.2L989.2 540.2L991.2 540.2L991.6 542.3L992.4 542.3L992.8 539.4L993.6 539.4L994.0 539.3L994.8 539.3L995.2 539.5L996.0 539.5L996.4 535.6L998.4 535.7L998.8 538.2L999.6 538.2L1000.0 539.1L1002.0 539.1L1002.4 540.4L1003.2 540.4L1003.6 541.0L1004.4 541.0L1004.8 537.2L1006.8 537.2L1007.2 540.6L1007.2 555.5L421.6 555.5L421.2 553.4L420.4 553.4L420.0 555.5L416.8 555.5L416.4 553.5L414.4 553.5L414.0 553.3L412.0 553.3L411.6 553.2L410.8 553.2L410.4 553.4L408.0 553.4L407.2 553.4L406.8 553.2L406.0 553.2L405.6 553.3L404.8 553.3L404.4 553.1L402.4 553.1L402.0 553.0L398.4 553.0L396.4 553.0L396.0 552.7L394.0 552.7L393.6 552.9L392.8 552.9L392.4 552.8L389.2 552.8L388.8 552.5L386.8 552.5L386.4 553.0L383.2 553.0L382.8 552.5L380.4 552.5L379.6 552.5L379.2 552.6L378.4 552.6L378.0 552.2L375.6 552.2L374.8 552.2L374.4 552.5L372.4 552.4L372.0 551.9L371.2 551.9L370.8 552.2L370.0 552.2L369.6 552.3L367.6 552.3L367.2 552.4L362.4 552.3L360.0 552.3L358.0 552.2L357.6 552.3L355.6 552.3L355.2 551.6L353.2 551.6L352.8 551.6L350.4 551.6L349.6 551.6L349.2 552.1L346.0 552.1L345.6 552.2L342.4 552.2L342.0 551.8L341.2 551.8L340.8 551.3L340.0 551.3L339.6 551.7L338.8 551.7L338.4 552.1L335.2 552.1L334.8 551.2L334.0 551.2L333.6 551.1L332.8 551.1L332.4 552.0L329.2 551.9L328.8 551.1L328.0 551.1L327.6 551.9L325.6 551.8L325.2 551.3L322.8 551.2L322.0 551.2L321.6 550.9L319.2 550.8L318.4 550.7L318.0 551.6L317.6 551.6L317.2 551.5L316.8 551.4L316.4 551.2L316.0 551.0L315.6 550.6L315.2 550.2L314.8 549.6L314.4 548.8L314.0 547.5L313.6 545.6L313.2 546.6L312.8 548.2L312.4 549.2L312.0 549.9L311.6 550.5L311.2 550.8L310.8 550.2L310.4 550.4L310.0 550.5L309.6 551.1L309.2 551.2L308.0 551.3L307.6 551.3L307.2 551.7L305.2 551.7L304.8 551.5L304.0 551.5L303.6 550.6L302.0 550.6L301.6 550.6L301.2 550.8L300.8 550.8L300.4 550.8L300.0 550.7L299.6 550.6L299.2 550.4L298.8 549.4L298.4 549.1L298.0 548.7L297.6 548.1L297.2 547.3L296.8 546.1L296.4 544.4L296.0 544.4L295.6 546.2L295.2 547.4L294.8 548.3L294.4 548.9L294.0 549.2L293.6 549.5L293.2 549.7L292.8 550.7L292.4 550.8L292.0 550.9L291.2 550.9L290.8 550.9L290.4 551.2L288.4 551.2L288.0 551.2L286.0 551.2L285.6 550.6L284.8 550.6L284.4 550.5L284.0 550.5L283.6 550.4L283.2 549.6L282.8 549.5L282.4 549.3L282.0 549.1L281.6 548.8L281.2 548.4L280.8 549.0L280.4 547.9L280.0 546.4L279.6 544.2L279.2 542.8L278.8 545.4L278.4 547.1L278.0 548.4L277.6 549.2L277.2 549.8L276.8 550.2L276.4 550.5L276.0 550.7L275.6 550.8L275.2 550.9L274.8 551.2L274.0 551.2L271.6 551.3L271.2 550.7L270.4 550.7L270.0 550.7L269.6 550.6L269.2 550.5L268.8 550.4L268.4 550.3L268.0 550.1L267.6 549.1L267.2 548.7L266.8 548.2L266.4 547.4L266.0 546.3L265.6 544.8L265.2 542.4L264.8 542.4L264.4 544.7L264.0 547.0L263.6 548.2L263.2 549.1L262.8 549.6L262.4 550.0L262.0 550.3L261.6 550.1L261.2 550.3L260.8 550.3L260.0 550.4L258.8 550.5L258.4 550.5L258.0 550.8L256.0 550.7L255.6 550.7L255.2 550.6L254.8 550.5L254.4 549.6L254.0 549.4L253.6 549.1L253.2 548.7L252.8 548.1L252.4 547.2L252.0 545.9L251.6 544.0L251.2 541.4L250.8 539.6L250.4 542.6L250.0 544.7L249.6 546.2L249.2 547.2L248.8 547.9L248.4 548.0L248.0 548.3L247.6 548.5L247.2 548.7L246.8 548.8L246.4 548.9L246.0 550.0L245.2 550.0L244.0 550.0L243.6 550.6L243.2 550.5L242.8 550.5L242.4 550.4L242.0 550.3L241.6 550.1L241.2 549.8L240.8 549.5L240.4 548.9L240.0 547.7L239.6 546.7L239.2 545.2L238.8 543.3L238.4 539.9L238.0 539.9L237.6 542.9L237.2 545.1L236.8 546.6L236.4 547.7L236.0 548.4L235.6 548.9L235.2 550.3L234.8 550.5L234.4 550.7L234.0 550.8L233.6 550.9L233.2 551.0L232.8 550.9L231.2 550.8L230.8 550.8L230.4 550.7L230.0 550.5L229.6 550.3L229.2 549.5L228.8 549.0L228.4 548.4L228.0 547.1L227.6 545.9L227.2 544.1L226.8 541.6L226.4 538.0L226.0 540.0L225.6 543.0L225.2 545.1L224.8 546.6L224.4 548.0L224.0 548.7L223.6 549.2L223.2 549.6L222.8 549.9L222.4 550.0L222.0 550.1L221.6 550.2L220.8 550.3L220.0 550.3L219.6 549.3L219.2 549.2L218.8 549.1L218.4 547.7L218.0 547.5L217.6 547.2L217.2 547.8L216.8 547.0L216.4 545.9L216.0 544.2L215.6 541.9L215.2 538.7L214.8 534.0L214.4 538.1L214.0 540.9L213.6 542.8L213.2 544.1L212.8 545.0L212.4 545.5L212.0 545.9L211.6 546.2L211.2 547.6L210.8 547.7L210.4 547.8L210.0 547.7L209.2 547.8L208.8 546.3L208.4 546.2L208.0 546.1L207.6 545.9L207.2 545.7L206.8 545.4L206.4 545.6L206.0 544.9L205.6 544.0L205.2 542.5L204.8 540.4L204.4 537.5L204.0 537.5L203.6 540.5L203.2 542.6L202.8 544.0L202.4 545.0L202.0 545.7L201.6 545.2L201.2 545.5L200.8 545.7L200.4 545.6L200.0 545.7L199.6 545.7L199.2 546.8L198.4 546.7L198.0 547.0L197.6 546.9L197.2 546.7L196.8 546.6L196.4 546.3L196.0 545.7L195.6 545.0L195.2 543.8L194.8 542.1L194.4 539.9L194.0 538.0L193.6 541.4L193.2 543.9L192.8 545.6L192.4 546.7L192.0 547.7L191.6 548.2L191.2 548.6L190.8 546.7L190.4 546.8L190.0 546.8L189.6 546.8L189.2 546.7L188.8 546.6L188.4 546.0L188.0 545.7L187.6 545.2L187.2 544.2L186.8 543.3L186.4 541.9L186.0 540.4L185.6 537.5L185.2 533.3L184.8 530.5L184.4 535.4L184.0 538.8L183.6 540.9L183.2 542.5L182.8 543.6L182.4 543.7L182.0 544.2L181.6 544.5L181.2 544.3L180.8 544.5L180.4 544.5L180.0 544.2L179.6 544.1L179.2 543.9L178.8 544.7L178.4 544.2L178.0 543.5L177.6 542.4L177.2 540.9L176.8 538.8L176.4 535.0L176.0 531.2L175.6 531.2L175.2 534.8L174.8 537.4L174.4 539.1L174.0 540.0L173.6 540.7L173.2 541.0L172.8 542.0L172.4 541.6L172.0 540.8L171.6 539.4L171.2 537.6L170.8 534.8L170.4 531.0L170.0 530.9L169.6 534.2L169.2 535.4L168.8 535.9L168.4 535.4L168.0 534.2L167.6 530.9L167.2 530.9L166.8 534.7L166.4 537.5L166.0 539.4L165.6 539.7L165.2 540.6L164.8 541.2L164.4 541.4L164.0 541.7L163.6 541.8L163.2 542.0L162.8 541.9L162.4 541.7L162.0 541.5L161.6 541.0L161.2 540.3L160.8 539.8L160.4 538.0L160.0 535.6L159.6 532.2L159.2 529.7L158.8 534.2L158.4 538.7L158.0 541.2L157.6 542.9L157.2 544.8L156.8 545.6L156.4 546.2L156.0 545.9L155.6 546.0L155.2 546.0L154.8 544.0L154.4 543.6L154.0 543.0L153.6 540.7L153.2 539.5L152.8 537.8L152.4 534.2L152.0 531.2L151.6 529.2L151.2 532.2L150.8 534.4L150.4 535.9L150.0 535.5L149.6 536.1L149.2 536.5L148.8 538.2L148.4 538.3L148.0 538.3L147.6 538.6L147.2 538.4L146.8 537.9L146.4 537.8L146.0 536.8L145.6 535.2L145.2 533.3L144.8 530.0L144.4 530.0L144.0 532.9L143.6 535.1L143.2 536.5L142.8 538.8L142.4 539.6L142.0 540.1L141.6 540.8L141.2 540.9L140.8 540.9L140.4 541.1L140.0 540.7L139.6 540.0L139.2 538.1L138.8 536.7L138.4 534.7L138.0 531.8L137.6 527.7L137.2 531.8L136.8 534.9L136.4 536.9L136.0 538.3L135.6 539.7L135.2 540.3L134.8 540.7L134.4 542.5L134.0 542.5L133.6 542.2L133.2 541.1L132.8 540.2L132.4 538.8L132.0 536.5L131.6 533.6L131.2 529.5L130.8 531.8L130.4 535.2L130.0 537.5L129.6 536.9L129.2 537.7L128.8 538.1L128.4 537.9L128.0 537.8L127.6 537.5L127.2 538.2L126.8 536.8L126.4 534.7L126.0 533.3L125.6 535.9L125.2 537.7L124.8 539.0L124.4 539.8L124.0 540.4L123.6 540.0L123.2 540.3L122.8 540.5L122.4 540.5L122.0 540.6L121.6 540.7L121.2 541.4L120.4 541.3L120.0 540.9L119.6 540.8L119.2 540.7L118.8 541.0L118.4 540.7L118.0 540.3L117.6 539.8L117.2 538.7L116.8 539.8L116.4 540.7L116.0 541.3L115.6 541.7L115.2 542.0L114.8 542.2L114.4 542.3L114.0 542.7L113.6 542.5L113.2 542.3L112.8 542.6L112.4 543.0L112.0 543.3L111.6 543.9L111.2 544.1L110.8 544.3L110.4 544.9L110.0 545.0L109.6 545.1L109.2 545.6L108.4 545.6L108.0 546.0L107.6 546.1L107.2 546.3L106.8 546.7L106.4 546.8L106.0 546.8L105.6 548.1L105.2 548.1L104.8 548.2L104.4 548.7L103.6 548.7L103.2 549.2L102.4 549.2L102.0 549.5L101.2 549.5L100.8 549.9L100.0 549.9L99.6 549.7L98.8 549.7L98.4 550.1L97.6 550.1L97.2 550.8L96.4 550.8L96.0 551.2L95.2 551.2L94.8 551.8L94.0 551.8L93.6 552.2L92.8 552.2L92.4 552.6L90.4 552.6L90.0 553.2L89.2 553.2L88.8 555.5L36.0 555.5Z" fill="#000"/>
<rect x="36.2" y="553.9" width="971" height="2.3" fill="#000"/><rect x="45.1" y="555.0" width="2" height="2.3" fill="#000"/><rect x="76.0" y="555.0" width="2" height="2.3" fill="#000"/><rect x="106.8" y="555.0" width="2" height="2.3" fill="#000"/><rect x="137.7" y="555.0" width="2" height="2.3" fill="#000"/><rect x="168.5" y="555.0" width="2" height="2.3" fill="#000"/><rect x="199.3" y="555.0" width="2" height="2.3" fill="#000"/><rect x="230.2" y="555.0" width="2" height="2.3" fill="#000"/><rect x="261.1" y="555.0" width="2" height="2.3" fill="#000"/><rect x="291.9" y="555.0" width="2" height="2.3" fill="#000"/><rect x="322.8" y="555.0" width="2" height="2.3" fill="#000"/><rect x="353.6" y="555.0" width="2" height="2.3" fill="#000"/><rect x="384.5" y="555.0" width="2" height="2.3" fill="#000"/><rect x="415.3" y="555.0" width="2" height="2.3" fill="#000"/><rect x="446.2" y="555.0" width="2" height="2.3" fill="#000"/><rect x="477.0" y="555.0" width="2" height="2.3" fill="#000"/><rect x="507.9" y="555.0" width="2" height="2.3" fill="#000"/><rect x="538.7" y="555.0" width="2" height="2.3" fill="#000"/><rect x="569.6" y="555.0" width="2" height="2.3" fill="#000"/><rect x="600.4" y="555.0" width="2" height="2.3" fill="#000"/><rect x="631.2" y="555.0" width="2" height="2.3" fill="#000"/><rect x="662.1" y="555.0" width="2" height="2.3" fill="#000"/><rect x="693.0" y="555.0" width="2" height="2.3" fill="#000"/><rect x="723.8" y="555.0" width="2" height="2.3" fill="#000"/><rect x="754.7" y="555.0" width="2" height="2.3" fill="#000"/><rect x="785.5" y="555.0" width="2" height="2.3" fill="#000"/><rect x="816.4" y="555.0" width="2" height="2.3" fill="#000"/><rect x="847.2" y="555.0" width="2" height="2.3" fill="#000"/><rect x="878.1" y="555.0" width="2" height="2.3" fill="#000"/><rect x="908.9" y="555.0" width="2" height="2.3" fill="#000"/><rect x="939.8" y="555.0" width="2" height="2.3" fill="#000"/><rect x="970.6" y="555.0" width="2" height="2.3" fill="#000"/><rect x="1001.5" y="555.0" width="2" height="2.3" fill="#000"/>
<path d="M36.0 819.3L36.8 819.2L37.6 819.1L38.4 819.0L39.2 818.9L40.0 818.8L40.8 818.7L41.2 816.8L43.2 816.7L43.6 816.3L44.4 816.3L44.8 816.1L45.6 816.1L46.0 816.2L46.8 816.2L47.2 816.0L47.6 815.6L48.0 813.2L48.4 809.9L50.0 809.9L50.4 811.3L50.8 814.1L51.2 814.5L51.6 814.5L52.0 813.8L52.8 813.8L53.2 814.9L55.2 814.9L55.6 814.7L56.4 814.7L56.8 815.5L57.6 815.5L58.0 815.0L58.8 815.0L59.2 814.1L61.2 814.1L61.6 814.6L62.4 814.6L62.8 814.0L63.6 814.0L64.0 813.0L64.8 813.0L65.2 812.3L66.0 812.3L66.4 812.8L67.2 812.8L67.6 811.7L68.4 811.7L68.8 812.0L69.6 812.0L70.0 811.6L70.8 811.6L71.2 811.8L72.0 811.8L72.4 811.7L73.2 811.7L73.6 811.8L74.4 811.8L74.8 810.6L75.6 810.6L76.0 809.8L76.8 809.8L77.2 810.5L78.0 810.5L78.4 810.2L79.2 810.2L79.6 810.7L80.4 810.7L80.8 808.3L81.6 808.3L82.0 807.9L82.8 807.9L83.2 809.6L84.0 809.6L84.4 809.3L84.8 803.9L86.4 803.9L86.8 804.3L87.2 808.7L87.6 808.7L88.0 808.2L88.8 808.2L89.2 807.9L90.0 807.9L90.4 807.6L91.2 807.6L91.6 808.1L92.4 808.1L92.8 799.8L93.6 799.8L94.0 798.6L94.8 798.6L95.2 804.7L96.0 804.7L96.4 805.6L96.8 800.3L98.4 800.3L98.8 803.3L99.2 805.1L99.6 805.1L100.0 805.9L100.8 805.9L101.2 804.9L102.0 804.9L102.4 802.7L102.8 793.6L104.4 793.6L104.8 795.8L105.6 795.8L106.0 802.4L106.8 802.4L107.2 800.6L108.0 800.6L108.4 799.9L108.8 799.9L109.2 791.0L110.8 791.0L111.2 791.8L111.6 799.0L112.0 801.9L112.8 801.9L113.2 798.4L114.0 798.4L114.4 798.0L115.2 798.0L115.6 799.5L116.0 782.1L117.6 782.1L118.0 783.3L118.4 798.3L118.8 799.7L119.2 801.3L120.0 801.3L120.4 798.6L121.2 798.6L121.6 795.4L122.4 795.4L122.8 793.3L123.2 778.1L124.8 778.1L125.2 786.2L125.6 795.5L126.0 795.5L126.4 796.7L127.2 796.7L127.6 793.2L128.4 793.2L128.8 794.7L129.6 794.7L130.0 796.5L130.4 795.7L130.8 765.2L132.8 765.2L133.2 787.9L133.6 790.0L134.4 790.0L134.8 792.9L135.6 792.9L136.0 790.7L136.4 790.7L136.8 766.2L138.4 766.2L138.8 768.2L139.2 771.0L141.2 771.0L141.6 790.6L142.0 790.0L142.4 755.3L144.0 755.3L144.4 758.1L144.8 788.7L145.2 791.2L145.6 791.4L146.4 791.4L146.8 787.1L147.2 776.6L147.6 716.5L149.6 716.5L150.0 764.6L150.4 778.0L150.8 786.5L151.2 790.6L151.6 789.1L152.4 789.1L152.8 793.6L153.2 785.2L153.6 737.0L155.6 737.0L156.0 775.5L156.4 786.4L156.8 786.9L157.2 768.2L159.2 768.2L159.6 784.8L160.0 760.9L160.4 717.5L162.0 717.5L162.4 746.7L162.8 774.3L163.2 782.6L163.6 789.0L164.4 789.0L164.8 787.1L165.6 787.1L166.0 785.9L166.4 773.1L166.8 717.5L168.4 717.5L168.8 722.4L169.2 772.2L169.6 780.5L170.0 785.0L170.4 785.0L170.8 788.4L171.6 788.4L172.0 788.1L172.4 784.0L172.8 779.3L173.2 759.0L173.6 686.7L175.2 686.7L175.6 693.0L176.0 733.0L176.4 733.0L176.8 777.1L177.2 782.8L177.6 764.2L179.2 764.2L179.6 777.0L180.0 770.2L180.4 701.2L182.4 701.2L182.8 746.0L183.2 746.0L183.6 773.0L184.0 786.2L184.4 788.8L184.8 791.4L185.2 791.7L185.6 791.7L186.0 791.3L186.4 782.0L186.8 782.0L187.2 768.0L187.6 696.1L189.6 696.1L190.0 728.0L190.4 728.0L190.8 754.5L191.2 754.5L191.6 756.1L192.0 789.5L192.4 787.8L193.2 787.8L193.6 789.4L194.0 789.4L194.4 786.2L194.8 757.8L195.2 757.8L195.6 694.7L197.2 694.7L197.6 700.6L198.0 761.5L198.4 771.7L198.8 781.9L199.2 785.1L199.6 787.8L200.0 790.5L200.4 793.3L200.8 773.2L201.2 768.6L202.8 768.6L203.2 750.6L203.6 699.7L205.2 699.7L205.6 723.0L206.4 723.0L206.8 772.2L207.2 787.1L207.6 789.7L208.0 792.2L208.8 792.2L209.2 792.4L210.0 792.4L210.4 790.1L210.8 790.1L211.2 787.8L211.6 784.1L212.0 768.5L212.4 697.3L214.4 697.3L214.8 754.3L215.2 759.5L215.6 760.8L216.0 785.1L216.4 787.8L216.8 789.9L217.2 789.9L217.6 790.1L218.4 790.1L218.8 795.9L219.2 795.1L219.6 791.2L220.0 787.2L220.4 783.2L220.8 770.8L221.2 706.4L221.6 691.1L223.2 691.1L223.6 733.0L224.4 733.0L224.8 781.8L225.2 785.5L225.6 788.3L226.0 791.1L226.4 793.9L226.8 796.7L227.2 796.8L227.6 796.8L228.0 794.3L228.4 769.2L230.0 769.2L230.4 766.6L230.8 692.1L232.8 692.1L233.2 719.7L233.6 719.7L234.0 722.4L234.4 780.1L234.8 780.8L235.2 780.8L235.6 792.3L236.0 794.0L236.4 794.0L236.8 790.5L237.6 790.5L238.0 790.6L238.8 790.6L239.2 788.4L239.6 783.9L240.0 776.8L240.4 745.4L240.8 686.5L242.4 686.5L242.8 728.3L243.2 746.0L243.6 746.0L244.0 762.8L244.8 762.8L245.2 788.4L245.6 793.5L246.0 793.5L246.4 795.9L247.2 795.9L247.6 798.2L248.4 798.2L248.8 793.0L249.2 793.0L249.6 791.8L250.0 786.3L250.4 780.7L250.8 774.9L251.2 739.6L251.6 670.4L253.2 670.4L253.6 719.5L254.0 756.6L254.4 771.3L254.8 778.1L255.2 782.1L255.6 786.0L256.0 789.9L256.8 789.9L257.2 793.0L258.0 793.0L258.4 797.5L259.6 797.5L260.0 772.0L260.4 765.2L262.0 765.2L262.4 702.6L262.8 680.2L264.4 680.2L264.8 742.7L265.2 766.7L265.6 779.2L266.0 783.3L266.4 787.4L266.8 791.6L267.2 795.3L268.8 795.3L269.2 798.9L271.2 798.9L271.6 798.0L272.0 798.0L272.4 795.7L272.8 792.4L273.2 784.5L273.6 776.7L274.0 761.9L274.4 655.3L276.4 655.3L276.8 745.6L277.2 766.3L277.6 775.1L278.0 780.6L278.4 765.2L280.0 765.2L280.4 783.6L280.8 793.6L281.2 794.7L282.0 794.7L282.4 790.8L284.4 790.8L284.8 796.6L285.2 793.8L285.6 785.6L286.0 776.3L286.4 755.0L286.8 653.0L288.4 653.0L288.8 667.4L289.2 753.7L289.6 772.2L290.0 778.8L290.4 785.4L290.8 792.1L291.2 795.0L291.6 796.3L292.0 793.3L292.8 793.3L293.2 794.4L294.0 794.4L294.4 797.3L295.2 797.3L295.6 799.4L297.2 799.5L297.6 799.3L298.0 763.2L299.6 763.2L300.0 732.5L300.4 628.1L302.0 628.1L302.4 703.0L302.8 752.1L303.2 767.6L303.6 775.4L304.0 783.3L304.4 789.9L304.8 792.3L305.2 794.7L305.6 797.0L306.0 799.3L306.4 797.9L307.2 797.9L307.6 795.3L308.4 795.3L308.8 799.4L309.6 799.4L310.0 792.0L310.8 792.0L311.2 795.4L311.6 795.4L312.0 793.7L312.4 790.0L312.8 786.3L313.2 776.1L313.6 763.6L314.0 736.3L314.4 602.3L316.0 602.3L316.4 621.7L316.8 734.7L317.2 758.3L317.6 767.2L318.0 776.1L318.4 785.0L318.8 787.9L319.2 790.6L319.6 773.5L320.0 763.2L321.6 763.2L322.0 790.3L322.4 794.8L322.8 794.8L323.2 799.8L324.0 799.8L324.4 792.6L325.2 792.6L325.6 792.1L326.4 792.1L326.8 795.3L327.2 791.3L327.6 787.4L328.0 783.5L328.4 770.5L328.8 757.3L329.2 715.5L329.6 590.8L331.2 590.8L331.6 680.2L332.0 738.9L332.4 757.4L332.8 766.7L333.2 776.1L333.6 784.0L334.0 786.9L334.4 789.7L334.8 792.5L335.2 794.5L336.0 794.5L336.4 796.1L337.2 796.1L337.6 790.0L339.6 790.0L340.0 794.6L340.8 794.6L341.2 797.8L342.0 797.8L342.4 795.5L342.8 795.5L343.2 792.5L343.6 788.3L344.0 784.1L344.4 777.7L344.8 763.5L345.2 749.4L345.6 629.4L346.0 574.9L347.6 574.9L348.0 705.2L348.4 742.6L348.8 755.5L349.2 765.6L349.6 775.6L350.0 782.3L350.4 785.3L350.8 788.4L351.2 791.4L351.6 794.4L352.0 797.4L352.4 799.3L352.8 799.3L353.2 798.3L354.0 798.3L354.4 791.2L354.8 786.6L356.4 786.6L356.8 797.2L357.6 797.2L358.0 795.6L358.8 795.6L359.2 800.0L359.6 799.5L360.0 795.3L360.4 791.0L360.8 786.8L361.2 782.6L361.6 773.5L362.0 759.2L362.4 742.2L362.8 571.5L364.8 571.5L365.2 713.1L365.6 747.0L366.0 757.2L366.4 767.3L366.8 777.5L367.2 782.5L367.6 785.6L368.0 788.7L368.4 791.8L368.8 794.8L369.2 796.0L369.6 796.0L370.0 798.2L370.4 798.2L370.8 791.2L371.2 786.6L372.8 786.6L373.2 800.4L373.6 801.3L374.4 801.3L374.8 799.9L376.8 799.9L377.2 795.5L378.0 795.5L378.4 795.5L378.8 795.5L379.2 795.1L379.6 791.3L380.0 787.5L380.4 781.7L380.8 768.9L381.2 756.1L381.6 647.4L382.0 598.1L383.6 598.1L384.0 716.1L384.4 749.9L384.8 761.6L385.2 770.7L385.6 779.8L386.0 785.9L386.4 788.6L386.8 791.4L387.2 794.1L387.6 794.9L388.0 799.6L388.4 800.5L390.0 800.6L390.4 795.4L390.8 795.4L391.2 792.0L393.2 792.0L393.6 798.9L394.0 798.0L394.8 798.0L395.2 799.3L396.0 799.3L396.4 799.8L397.2 799.8L397.6 798.3L398.4 798.3L398.8 800.9L399.2 797.5L399.6 794.0L400.0 790.6L400.4 785.3L400.8 773.8L401.2 762.2L401.6 663.8L402.0 619.2L403.6 619.2L404.0 726.0L404.4 756.6L404.8 767.2L405.2 775.4L405.6 783.6L406.0 789.1L406.4 791.6L406.8 794.1L407.2 794.2L408.0 794.2L408.4 795.8L409.2 795.8L409.6 800.8L410.4 800.8L410.8 795.1L411.6 795.1L412.0 795.2L412.4 787.0L414.0 787.0L414.4 788.8L414.8 800.8L415.2 792.3L415.6 788.0L417.2 788.0L417.6 799.8L418.0 798.4L418.8 798.4L419.2 801.4L420.0 801.4L420.4 798.9L420.8 798.9L421.2 796.5L421.6 793.5L422.0 787.1L422.4 776.9L422.8 765.0L423.2 644.0L425.2 644.0L425.6 744.3L426.0 768.3L426.4 775.5L426.8 782.7L427.2 789.9L427.6 793.5L428.0 795.7L428.4 797.8L428.8 800.0L429.2 802.2L429.6 802.4L430.0 799.4L430.8 799.4L431.2 798.1L432.0 798.1L432.4 800.8L433.2 800.8L433.6 791.8L434.0 791.8L434.4 782.1L436.4 782.1L436.8 801.7L437.2 804.8L439.6 804.9L440.4 804.9L440.8 801.5L441.6 801.5L442.0 801.5L442.8 801.5L443.2 804.8L443.6 803.5L444.0 800.8L444.4 798.1L444.8 795.3L445.2 787.9L445.6 778.7L446.0 758.8L446.4 660.7L448.0 660.7L448.4 674.9L448.8 757.6L449.2 774.9L449.6 781.4L450.0 787.9L450.4 794.4L450.8 796.5L451.2 798.5L451.6 800.4L452.0 802.4L452.4 802.9L452.8 802.9L453.6 802.9L454.0 801.1L454.8 801.1L455.2 801.2L456.0 801.2L456.4 804.2L457.2 804.2L457.6 803.1L458.4 803.1L458.8 800.5L459.2 800.5L459.6 798.0L461.6 798.0L462.0 802.3L462.4 801.9L463.2 801.9L463.6 802.0L464.4 802.0L464.8 803.1L465.6 803.1L466.0 801.1L466.8 801.1L467.2 801.2L468.0 801.2L468.4 803.1L469.2 803.1L469.6 805.5L470.0 805.5L470.4 803.5L470.8 801.4L471.2 795.9L471.6 788.9L472.0 773.9L472.4 700.0L474.0 700.0L474.4 710.7L474.8 773.0L475.2 786.0L475.6 790.9L476.0 795.8L476.4 800.8L476.8 802.3L477.2 803.8L477.6 803.8L478.0 803.9L478.8 803.9L479.2 805.5L480.0 805.5L480.4 803.4L481.2 803.4L481.6 804.3L482.4 804.3L482.8 801.1L483.6 801.1L484.0 803.1L484.8 803.1L485.2 804.1L485.6 791.4L487.2 791.4L487.6 800.4L488.0 804.6L488.4 804.6L488.8 804.7L489.6 804.7L490.0 805.4L490.8 805.4L491.2 803.8L492.0 803.8L492.4 805.4L493.2 805.4L493.6 804.9L494.4 804.9L494.8 802.9L495.6 802.9L496.0 801.3L496.8 801.3L497.2 803.4L498.0 803.4L498.4 801.6L498.8 795.5L499.2 789.3L499.6 737.0L500.0 713.3L501.6 713.3L502.0 770.1L502.4 786.3L502.8 792.0L503.2 796.3L503.6 800.7L504.0 803.6L504.4 803.9L505.2 803.9L505.6 806.4L506.4 806.4L506.8 807.1L507.6 807.1L508.0 805.3L508.8 805.3L509.2 805.4L510.0 805.4L510.4 805.5L511.2 805.5L511.6 803.5L512.4 803.5L512.8 803.5L513.6 803.5L514.0 804.7L514.4 803.1L514.8 789.4L516.4 789.4L516.8 799.2L517.2 806.4L518.4 806.4L518.8 806.0L520.8 806.0L521.2 806.7L522.0 806.7L522.4 805.1L523.2 805.1L523.6 802.8L524.4 802.8L524.8 803.1L525.6 803.1L526.0 805.4L526.8 805.4L527.2 806.9L528.0 806.9L528.4 805.8L528.8 804.4L529.2 799.1L529.6 793.9L530.0 749.4L530.4 729.2L532.0 729.2L532.4 777.5L532.8 791.4L533.2 796.2L533.6 799.9L534.0 803.6L534.4 805.5L535.2 805.5L535.6 806.0L536.4 806.0L536.8 806.0L537.6 806.0L538.0 804.7L538.8 804.7L539.2 805.5L539.6 804.0L541.6 804.0L542.0 807.0L542.4 807.0L542.8 806.1L543.6 806.1L544.0 807.3L544.8 807.3L545.2 805.4L546.0 805.4L546.4 803.4L546.8 790.0L548.4 790.0L548.8 799.5L549.2 807.0L549.6 807.1L550.0 807.1L550.8 807.1L551.2 806.7L552.0 806.7L552.4 806.4L553.2 806.4L553.6 807.0L554.4 807.0L554.8 806.5L555.6 806.5L556.0 806.1L556.8 806.1L557.2 805.2L558.0 805.2L558.4 807.2L559.2 807.2L559.6 807.1L560.4 807.1L560.8 807.3L562.0 807.3L562.4 805.8L562.8 800.7L563.2 795.5L563.6 779.1L564.0 730.2L565.6 730.2L566.0 765.3L566.4 788.3L566.8 795.5L567.2 799.2L567.6 802.9L568.0 806.0L568.4 807.1L568.8 807.7L569.2 808.3L570.0 808.3L570.4 807.3L571.2 807.3L571.6 806.9L572.4 806.9L572.8 802.9L573.6 802.9L574.0 803.5L574.8 803.5L575.2 807.3L576.0 807.3L576.4 806.4L577.2 806.4L577.6 806.2L578.4 806.2L578.8 807.3L579.6 807.3L580.0 807.7L580.8 807.7L581.2 809.6L581.6 800.2L582.0 797.4L583.6 797.4L584.0 805.1L584.4 805.1L584.8 805.1L585.6 805.1L586.0 809.0L586.8 809.0L587.2 806.2L588.0 806.2L588.4 808.0L589.2 808.0L589.6 809.0L590.4 809.0L590.8 810.5L592.8 810.6L593.2 809.3L595.2 809.3L595.6 809.8L597.6 809.8L598.0 807.6L598.8 807.6L599.2 807.7L599.6 804.0L600.0 799.4L600.4 789.4L600.8 740.4L602.4 740.4L602.8 747.5L603.2 788.8L603.6 797.5L604.0 800.7L604.4 804.0L604.8 805.1L606.0 805.2L606.4 808.5L608.4 808.5L608.8 809.8L609.6 809.8L610.0 808.2L610.8 808.2L611.2 808.4L612.0 808.4L612.4 809.0L613.2 809.0L613.6 807.8L614.4 807.8L614.8 809.5L615.6 809.5L616.0 807.1L616.8 807.1L617.2 808.0L619.2 808.0L619.6 808.7L620.0 808.7L620.4 797.0L622.4 797.0L622.8 807.9L623.2 808.9L623.6 802.0L625.2 802.0L625.6 802.9L626.0 811.6L627.6 811.6L628.0 811.8L628.8 811.8L629.2 810.9L630.0 810.9L630.4 810.1L631.2 810.1L631.6 809.6L632.4 809.6L632.8 808.8L633.6 808.8L634.0 805.8L634.8 805.8L635.2 810.4L636.0 810.4L636.4 808.2L637.2 808.2L637.6 809.4L638.4 809.4L638.8 808.2L640.4 808.2L640.8 806.1L641.2 801.0L641.6 768.2L643.6 768.2L644.0 796.3L644.4 802.3L644.8 805.6L645.2 807.2L645.6 808.8L646.0 810.4L647.2 810.5L648.0 810.5L648.4 810.7L649.2 810.7L649.6 810.2L650.4 810.2L650.8 809.9L652.8 809.9L653.2 810.5L654.0 810.5L654.4 811.9L655.2 811.9L655.6 810.5L656.4 810.5L656.8 810.6L657.6 810.6L658.0 811.5L658.8 811.5L659.2 810.4L660.0 810.4L660.4 809.5L661.2 809.5L661.6 810.7L663.6 810.7L664.0 805.0L664.4 803.0L666.0 803.0L666.4 809.6L666.8 810.6L667.2 810.6L667.6 810.9L668.4 810.9L668.8 809.6L669.6 809.6L670.0 810.4L670.8 810.4L671.2 808.5L673.2 808.5L673.6 810.4L674.4 810.4L674.8 810.3L675.6 810.3L676.0 810.4L676.8 810.4L677.2 811.0L678.0 811.0L678.4 810.5L679.2 810.5L679.6 812.3L680.4 812.3L680.8 812.9L681.6 812.9L682.0 811.2L682.8 811.2L683.2 811.6L684.0 811.6L684.4 812.1L685.2 812.1L685.6 809.4L686.4 809.4L686.8 811.2L687.2 811.2L687.6 808.5L688.0 794.4L689.6 794.4L690.0 795.7L690.4 808.2L690.8 810.5L691.2 811.3L691.6 811.2L693.6 811.2L694.0 811.4L694.8 811.4L695.2 811.3L697.2 811.3L697.6 812.8L698.4 812.8L698.8 810.9L699.6 810.9L700.0 809.5L700.8 809.5L701.2 811.7L703.2 811.7L703.6 811.4L704.4 811.4L704.8 812.5L705.6 812.5L706.0 813.0L706.8 813.0L707.2 811.2L709.6 811.2L710.4 811.2L710.8 810.5L711.6 810.5L712.0 811.3L712.8 811.3L713.2 811.4L714.0 811.4L714.4 810.9L716.4 810.9L716.8 812.5L717.6 812.5L718.0 811.8L718.8 811.8L719.2 810.0L720.0 810.0L720.4 810.8L721.2 810.8L721.6 811.0L722.4 811.0L722.8 812.4L724.8 812.5L725.2 812.6L726.0 812.6L726.4 811.8L727.2 811.8L727.6 812.0L728.4 812.0L728.8 812.5L729.6 812.5L730.0 812.2L730.8 812.2L731.2 810.9L732.0 810.9L732.4 811.1L733.2 811.1L733.6 813.1L735.6 813.1L736.0 812.1L736.8 812.1L737.2 811.9L738.0 811.9L738.4 812.0L738.8 812.0L739.2 805.0L739.6 803.0L741.2 803.0L741.6 809.6L742.0 812.8L742.4 812.9L742.8 812.9L743.2 812.7L744.0 812.7L744.4 811.4L745.2 811.4L745.6 810.6L746.4 810.6L746.8 812.3L747.6 812.3L748.0 811.2L748.8 811.2L749.2 812.2L750.0 812.2L750.4 812.9L751.2 812.9L751.6 811.8L752.4 811.8L752.8 812.7L753.6 812.7L754.0 811.1L754.8 811.1L755.2 811.5L756.0 811.5L756.4 813.1L757.2 813.1L757.6 811.7L758.4 811.7L758.8 812.8L759.6 812.8L760.0 813.4L760.8 813.4L761.2 813.8L764.4 813.8L764.8 813.3L765.6 813.3L766.0 812.8L766.8 812.8L767.2 813.8L770.4 813.8L770.8 812.5L771.6 812.5L772.0 813.3L772.8 813.3L773.2 813.6L774.0 813.6L774.4 813.3L775.2 813.3L775.6 810.5L776.4 810.5L776.8 812.6L777.6 812.6L778.0 810.8L778.8 810.8L779.2 811.2L780.0 811.2L780.4 813.0L781.2 813.0L781.6 813.5L783.6 813.5L784.0 813.8L786.0 813.8L786.4 812.1L787.2 812.1L787.6 811.5L788.4 811.5L788.8 812.8L790.8 812.8L791.2 813.1L792.0 813.1L792.4 813.7L794.4 813.7L794.8 813.0L796.8 813.0L797.2 813.4L797.6 813.4L798.0 812.1L798.4 806.5L800.0 806.5L800.4 810.2L800.8 813.2L801.6 813.2L802.0 813.9L804.0 813.9L804.4 812.9L805.2 812.9L805.6 813.1L806.4 813.1L806.8 814.3L807.6 814.3L808.0 812.8L808.8 812.8L809.2 813.0L810.0 813.0L810.4 814.4L811.2 814.4L811.6 813.5L812.4 813.5L812.8 814.8L813.6 814.8L814.0 814.3L814.8 814.3L815.2 813.2L816.0 813.2L816.4 813.8L817.2 813.8L817.6 812.2L819.6 812.2L820.0 812.8L820.8 812.8L821.2 812.6L822.0 812.6L822.4 813.5L823.2 813.5L823.6 813.7L824.4 813.7L824.8 814.2L826.8 814.2L827.2 813.5L828.0 813.5L828.4 813.3L829.2 813.3L829.6 814.0L830.4 814.0L830.8 815.1L831.6 815.1L832.0 813.3L834.0 813.4L834.4 815.2L836.4 815.3L836.8 814.6L837.6 814.6L838.0 814.0L838.8 814.0L839.2 813.6L840.0 813.6L840.4 813.9L841.2 813.9L841.6 814.9L843.6 814.9L844.0 814.5L844.8 814.5L845.2 812.8L846.0 812.8L846.4 814.2L848.4 814.2L848.8 814.8L849.6 814.8L850.0 814.5L852.0 814.6L852.4 814.0L853.2 814.0L853.6 814.3L855.6 814.3L856.0 814.2L856.8 814.2L857.2 814.6L859.2 814.6L859.6 814.9L860.4 814.9L860.8 814.8L862.8 814.8L863.2 814.3L864.0 814.3L864.4 814.5L866.4 814.5L866.8 815.5L868.8 815.5L869.2 812.4L870.0 812.4L870.4 812.5L871.2 812.5L871.6 814.5L872.4 814.5L872.8 814.2L874.8 814.2L875.2 814.7L876.0 814.7L876.4 813.7L877.2 813.7L877.6 814.2L878.4 814.2L878.8 814.5L879.6 814.5L880.0 814.5L880.8 814.5L881.2 814.1L882.0 814.1L882.4 814.4L883.2 814.4L883.6 813.8L884.4 813.8L884.8 814.1L885.6 814.1L886.0 814.9L886.8 814.9L887.2 813.0L888.0 813.0L888.4 814.4L889.2 814.4L889.6 815.1L890.4 815.1L890.8 814.6L891.6 814.6L892.0 815.0L892.8 815.0L893.2 815.4L894.0 815.4L894.4 814.5L895.2 814.5L895.6 815.7L896.4 815.7L896.8 815.1L898.8 815.1L899.2 814.6L901.2 814.6L901.6 814.3L902.4 814.3L902.8 814.9L903.6 814.9L904.0 815.8L904.8 815.8L905.2 815.6L906.0 815.6L906.4 815.3L908.4 815.3L908.8 815.7L910.8 815.8L911.2 814.3L912.0 814.3L912.4 814.9L913.2 814.9L913.6 815.7L914.4 815.7L914.8 813.6L915.6 813.6L916.0 814.1L916.8 814.1L917.2 814.6L919.2 814.7L919.6 815.2L920.4 815.2L920.8 815.1L921.6 815.1L922.0 815.4L922.8 815.4L923.2 815.7L924.0 815.7L924.4 815.3L925.2 815.3L925.6 815.4L926.4 815.4L926.8 815.9L928.8 815.8L929.2 815.4L930.0 815.4L930.4 815.4L931.2 815.4L931.6 814.9L932.4 814.9L932.8 815.0L934.8 815.0L935.2 815.6L937.2 815.6L937.6 815.8L938.4 815.8L938.8 815.5L939.6 815.5L940.0 815.8L940.8 815.8L941.2 816.0L942.0 816.0L942.4 814.5L943.2 814.5L943.6 816.1L944.4 816.1L944.8 815.8L945.6 815.8L946.0 815.6L946.8 815.6L947.2 816.2L948.0 816.2L948.4 815.8L949.2 815.8L949.6 816.1L950.4 816.1L950.8 816.5L951.6 816.5L952.0 816.1L952.8 816.1L953.2 815.8L954.0 815.8L954.4 815.5L955.2 815.5L955.6 815.4L956.4 815.4L956.8 815.8L957.6 815.8L958.0 816.4L960.0 816.4L960.4 814.9L961.2 814.9L961.6 814.1L962.4 814.1L962.8 816.7L964.8 816.7L965.2 816.4L967.2 816.5L967.6 816.1L968.4 816.1L968.8 815.6L970.8 815.7L971.2 815.8L973.2 815.8L973.6 815.0L974.4 815.0L974.8 814.5L975.6 814.5L976.0 815.6L976.8 815.6L977.2 816.2L978.0 816.2L978.4 816.2L979.2 816.2L979.6 815.9L980.4 815.9L980.8 815.3L981.6 815.3L982.0 815.7L982.8 815.7L983.2 815.6L985.2 815.6L985.6 815.4L987.6 815.4L988.0 816.3L988.8 816.3L989.2 814.8L990.0 814.8L990.4 814.3L991.2 814.3L991.6 816.4L993.6 816.4L994.0 816.2L994.8 816.2L995.2 816.5L996.0 816.5L996.4 816.3L997.2 816.3L997.6 816.1L999.6 816.1L1000.0 816.8L1000.8 816.8L1001.2 816.2L1003.2 816.2L1003.6 816.4L1005.6 816.4L1006.0 816.3L1006.8 816.3L1007.2 816.7L1007.2 821.7L671.2 821.7L670.8 819.7L666.4 819.7L666.0 819.6L664.0 819.6L663.6 819.5L660.4 819.5L660.0 819.6L658.0 819.6L657.6 819.7L655.6 819.7L655.2 819.5L650.8 819.5L650.4 819.5L648.4 819.4L647.6 819.4L647.2 819.3L646.8 819.1L646.4 819.0L646.0 818.9L645.6 818.7L645.2 818.5L644.8 818.1L644.4 817.8L644.0 817.0L643.6 815.9L643.2 817.0L642.8 817.8L642.4 818.4L642.0 818.7L641.6 819.0L641.2 819.2L640.8 819.2L640.4 819.3L640.0 819.4L639.2 819.4L637.6 819.5L637.2 819.2L634.0 819.2L633.6 819.4L631.6 819.4L631.2 819.3L630.4 819.3L630.0 819.4L628.0 819.4L627.6 819.1L624.4 819.1L624.0 819.4L623.2 819.4L622.8 819.0L622.0 819.0L621.6 819.3L618.4 819.2L618.0 818.9L616.0 818.9L615.6 819.1L610.8 819.1L610.0 819.1L609.6 818.9L608.8 818.8L608.4 818.8L607.2 818.7L606.8 818.7L606.4 818.6L606.0 818.5L605.6 818.4L605.2 818.2L604.8 818.4L604.4 818.1L604.0 817.5L603.6 816.8L603.2 815.7L602.8 814.1L602.4 815.0L602.0 816.3L601.6 817.2L601.2 817.5L600.8 817.9L600.4 818.2L600.0 818.2L599.6 818.4L599.2 818.5L598.8 818.7L598.0 818.7L597.2 818.8L595.6 818.8L595.2 818.9L594.4 818.9L594.0 819.2L593.2 819.2L592.8 818.9L590.8 818.9L590.4 819.2L589.6 819.2L589.2 818.9L586.0 818.8L585.6 819.0L582.4 818.9L582.0 818.7L580.0 818.7L579.6 819.2L578.8 819.2L578.4 818.9L577.6 818.9L577.2 818.7L574.0 818.7L573.6 819.1L571.2 819.0L570.4 818.9L570.0 818.9L569.6 818.8L569.2 818.7L568.8 818.6L568.4 818.4L568.0 818.1L567.6 817.6L567.2 817.0L566.8 816.1L566.4 814.8L566.0 813.1L565.6 813.1L565.2 814.8L564.8 816.1L564.4 816.9L564.0 817.5L563.6 817.9L563.2 818.2L562.8 817.9L562.4 818.0L562.0 818.1L561.2 818.2L557.2 818.2L556.8 818.3L554.8 818.3L554.4 818.5L550.0 818.5L549.6 818.0L546.4 818.0L546.0 818.5L542.8 818.5L542.4 818.6L538.0 818.5L537.6 817.8L536.8 817.8L536.4 817.7L536.0 817.7L535.6 817.6L535.2 817.4L534.8 817.2L534.4 816.9L534.0 817.2L533.6 816.6L533.2 815.6L532.8 814.3L532.4 812.4L532.0 811.2L531.6 813.4L531.2 815.0L530.8 816.1L530.4 816.9L530.0 817.4L529.6 817.8L529.2 817.6L528.8 817.7L528.4 817.8L528.0 818.4L527.6 818.4L526.8 818.5L524.8 818.6L524.4 818.0L522.4 818.0L522.0 817.8L518.8 817.7L518.4 818.7L516.4 818.7L516.0 817.6L514.0 817.6L513.6 818.6L511.6 818.6L511.2 817.8L508.0 817.7L507.6 818.0L506.8 817.9L506.4 817.5L506.0 817.5L505.6 817.4L505.2 817.9L504.8 817.8L504.4 817.5L504.0 817.2L503.6 816.7L503.2 815.9L502.8 814.4L502.4 813.1L502.0 811.1L501.6 809.8L501.2 812.2L500.8 813.9L500.4 815.1L500.0 815.9L499.6 816.5L499.2 816.9L498.8 817.1L498.4 817.3L498.0 817.7L497.6 817.8L497.2 817.9L496.8 818.2L496.0 818.3L493.6 818.3L493.2 818.5L491.2 818.5L490.8 818.2L490.0 818.2L489.6 817.8L487.6 817.8L487.2 817.7L482.8 817.7L482.4 817.9L480.4 817.9L480.0 817.5L479.2 817.5L478.8 817.4L478.4 817.3L478.0 817.2L477.6 817.5L477.2 817.3L476.8 816.9L476.4 816.5L476.0 815.8L475.6 814.8L475.2 813.4L474.8 811.3L474.4 808.4L474.0 810.0L473.6 812.4L473.2 814.1L472.8 815.3L472.4 816.2L472.0 816.7L471.6 816.6L471.2 816.9L470.8 817.0L470.4 817.2L470.0 817.2L469.6 817.3L469.2 818.1L468.4 818.1L467.2 818.1L466.8 818.0L466.0 818.0L465.6 817.2L462.4 817.2L462.0 817.6L461.2 817.6L460.8 818.2L457.6 818.1L457.2 817.6L454.4 817.6L454.0 817.5L453.6 817.3L453.2 817.3L452.8 817.2L452.4 817.1L452.0 817.0L451.6 816.8L451.2 816.6L450.8 816.2L450.4 815.7L450.0 815.3L449.6 814.2L449.2 812.6L448.8 810.3L448.4 807.0L448.0 808.8L447.6 811.5L447.2 813.4L446.8 814.7L446.4 815.7L446.0 816.3L445.6 816.8L445.2 816.5L444.8 816.7L444.4 816.9L444.0 817.8L443.6 817.9L443.2 817.9L442.4 818.0L440.8 818.0L440.4 818.2L437.2 818.1L436.8 816.8L433.6 816.8L433.2 817.0L432.4 817.0L432.0 816.7L430.8 816.7L430.0 816.6L429.6 816.4L429.2 816.4L428.8 816.2L428.4 816.0L428.0 815.8L427.6 815.4L427.2 814.9L426.8 814.1L426.4 813.0L426.0 811.8L425.6 809.4L425.2 805.9L424.8 809.4L424.4 811.8L424.0 813.5L423.6 815.1L423.2 815.9L422.8 816.5L422.4 816.1L422.0 816.4L421.6 816.5L421.2 817.5L420.8 817.6L420.4 817.7L419.6 817.7L418.0 817.8L417.6 817.9L415.6 817.9L415.2 816.9L412.0 816.8L411.6 816.4L409.6 816.4L409.2 817.5L408.4 817.4L408.0 817.3L407.6 817.2L407.2 817.1L406.8 817.3L406.4 817.0L406.0 816.5L405.6 815.8L405.2 814.9L404.8 813.5L404.4 811.4L404.0 808.7L403.6 806.9L403.2 810.1L402.8 812.4L402.4 814.0L402.0 814.8L401.6 815.6L401.2 816.1L400.8 816.2L400.4 816.4L400.0 816.6L399.6 817.6L399.2 817.6L398.8 817.7L398.4 816.3L397.6 816.4L397.2 817.6L394.0 817.7L393.6 817.3L390.4 817.3L390.0 817.9L388.8 817.8L388.4 817.7L388.0 817.7L387.6 817.5L387.2 817.4L386.8 817.2L386.4 815.5L386.0 815.1L385.6 814.6L385.2 813.7L384.8 812.5L384.4 810.8L384.0 808.4L383.6 806.7L383.2 809.7L382.8 811.7L382.4 813.2L382.0 814.2L381.6 815.8L381.2 816.3L380.8 816.6L380.4 816.7L380.0 816.9L379.6 817.0L379.2 816.0L378.8 816.0L378.0 816.1L377.2 816.1L376.8 817.7L374.8 817.7L374.4 817.9L372.4 817.9L372.0 816.8L370.4 816.8L369.6 816.8L369.2 816.7L368.8 816.6L368.4 817.2L368.0 817.0L367.6 816.7L367.2 814.9L366.8 814.4L366.4 813.6L366.0 812.6L365.6 811.1L365.2 808.9L364.8 805.8L364.4 809.5L364.0 812.0L363.6 813.8L363.2 815.0L362.8 815.9L362.4 816.5L362.0 816.9L361.6 817.2L361.2 816.7L360.8 816.8L360.4 816.9L360.0 816.9L359.2 817.0L358.0 817.1L357.6 817.3L356.8 817.3L356.4 817.6L354.4 817.5L354.0 817.1L352.8 817.0L352.4 817.0L352.0 816.9L351.6 816.5L351.2 816.4L350.8 816.2L350.4 815.8L350.0 815.4L349.6 814.8L349.2 813.9L348.8 812.7L348.4 810.9L348.0 808.5L347.6 806.7L347.2 809.9L346.8 812.0L346.4 813.5L346.0 814.5L345.6 814.5L345.2 815.0L344.8 815.3L344.4 815.5L344.0 815.7L343.6 815.8L343.2 816.6L342.8 816.7L342.0 816.8L341.2 816.8L340.8 816.7L338.8 816.7L338.4 815.8L337.6 815.7L337.2 816.5L336.4 816.5L336.0 816.7L335.6 816.6L335.2 816.5L334.8 816.3L334.4 816.1L334.0 815.8L333.6 815.3L333.2 814.7L332.8 813.7L332.4 812.4L332.0 810.4L331.6 807.5L331.2 807.4L330.8 810.1L330.4 811.9L330.0 813.2L329.6 814.1L329.2 814.7L328.8 815.2L328.4 815.5L328.0 815.7L327.6 815.5L327.2 815.6L326.8 815.7L326.0 815.8L324.4 815.8L324.0 817.5L322.0 817.5L321.2 817.4L320.8 817.3L320.4 816.3L320.0 816.2L319.6 816.0L319.2 815.8L318.8 815.4L318.4 814.9L318.0 814.2L317.6 813.2L317.2 811.7L316.8 809.5L316.4 806.6L316.0 808.2L315.6 810.6L315.2 812.4L314.8 813.6L314.4 814.4L314.0 814.9L313.6 815.3L313.2 816.1L312.8 816.3L312.4 816.5L312.0 816.6L311.6 816.6L311.2 816.7L310.8 816.5L307.6 816.5L307.2 815.8L306.8 815.8L306.4 815.7L306.0 815.6L305.6 815.4L305.2 815.2L304.8 816.4L304.4 815.9L304.0 815.2L303.6 814.2L303.2 812.7L302.8 810.6L302.4 807.6L302.0 807.6L301.6 810.6L301.2 812.1L300.8 813.4L300.4 814.3L300.0 814.9L299.6 815.4L299.2 815.7L298.8 815.9L298.4 816.0L298.0 816.1L297.6 816.3L296.8 816.4L295.6 816.5L295.2 817.1L294.0 817.0L293.6 817.0L293.2 816.9L292.8 816.9L292.4 816.7L292.0 816.6L291.6 816.3L291.2 815.9L290.8 815.4L290.4 814.6L290.0 813.6L289.6 812.0L289.2 809.8L288.8 806.6L288.4 808.3L288.0 810.8L287.6 812.6L287.2 813.9L286.8 814.7L286.4 815.3L286.0 815.7L285.6 816.6L285.2 816.9L284.8 817.0L284.4 817.0L284.0 817.1L283.6 817.1L283.2 816.1L281.2 816.1L280.8 816.7L280.4 816.6L280.0 816.5L279.6 816.3L279.2 816.0L278.8 815.6L278.4 815.2L278.0 814.4L277.6 813.2L277.2 811.5L276.8 809.1L276.4 805.5L276.0 808.8L275.6 811.0L275.2 812.5L274.8 813.2L274.4 813.9L274.0 814.3L273.6 814.7L273.2 814.9L272.8 815.1L272.4 815.2L272.0 815.3L271.6 815.3L271.2 815.7L270.4 815.8L270.0 816.9L269.2 816.8L268.8 816.7L268.4 816.6L268.0 816.5L267.6 816.3L267.2 816.0L266.8 815.5L266.4 813.6L266.0 812.8L265.6 811.7L265.2 810.1L264.8 807.9L264.4 806.4L264.0 809.1L263.6 811.0L263.2 812.3L262.8 813.9L262.4 814.6L262.0 815.1L261.6 815.4L261.2 815.6L260.8 815.8L260.4 816.2L260.0 816.3L259.2 816.3L258.4 816.3L258.0 816.6L257.6 816.5L257.2 816.4L256.8 816.3L256.4 816.0L256.0 815.7L255.6 814.6L255.2 814.0L254.8 813.1L254.4 811.5L254.0 809.8L253.6 807.3L253.2 807.3L252.8 809.8L252.4 811.5L252.0 812.7L251.6 813.5L251.2 814.1L250.8 816.0L250.4 816.3L250.0 816.6L249.6 816.9L249.2 817.0L248.8 817.1L247.6 817.1L247.2 815.4L246.8 815.3L246.4 815.3L246.0 815.1L245.6 814.9L245.2 814.7L244.8 814.5L244.4 813.9L244.0 813.1L243.6 811.9L243.2 810.2L242.8 807.8L242.4 807.9L242.0 810.6L241.6 812.4L241.2 813.7L240.8 814.6L240.4 815.3L240.0 815.8L239.6 816.1L239.2 816.3L238.8 814.9L238.4 815.0L236.8 814.9L236.4 816.0L236.0 815.8L235.6 815.6L235.2 815.2L234.8 814.7L234.4 814.0L234.0 812.5L233.6 811.2L233.2 809.3L232.8 806.5L232.4 809.8L232.0 812.0L231.6 813.6L231.2 814.7L230.8 815.4L230.4 815.9L230.0 816.3L229.6 816.5L229.2 815.6L228.8 815.7L227.6 815.8L227.2 815.7L226.8 816.1L226.4 815.9L226.0 815.7L225.6 814.5L225.2 814.0L224.8 813.4L224.4 812.4L224.0 811.0L223.6 809.0L223.2 807.8L222.8 810.6L222.4 812.6L222.0 814.0L221.6 814.9L221.2 815.6L220.8 816.0L220.4 816.3L220.0 816.5L219.6 816.7L219.2 816.8L218.4 816.8L218.0 816.7L217.6 816.5L217.2 816.3L216.8 816.0L216.4 815.5L216.0 813.1L215.6 812.3L215.2 811.2L214.8 809.6L214.4 807.1L214.0 809.6L213.6 811.3L213.2 812.5L212.8 813.4L212.4 813.9L212.0 814.3L211.6 814.6L211.2 814.8L210.8 814.9L210.4 815.0L209.2 814.9L208.8 816.2L208.4 816.0L208.0 815.7L207.6 815.3L207.2 814.8L206.8 814.0L206.4 812.7L206.0 811.1L205.6 808.7L205.2 808.7L204.8 811.1L204.4 812.7L204.0 814.2L203.6 815.0L203.2 815.6L202.8 815.3L202.4 815.5L202.0 815.7L201.2 815.7L200.8 815.6L200.4 814.8L200.0 814.6L199.6 814.3L199.2 813.7L198.8 812.9L198.4 811.8L198.0 810.7L197.6 808.1L197.2 809.5L196.8 811.7L196.4 813.2L196.0 814.2L195.6 814.9L195.2 815.4L194.8 815.7L194.4 815.7L194.0 815.8L193.6 815.8L193.2 815.7L192.8 815.7L192.4 815.5L192.0 814.0L191.6 813.6L191.2 813.1L190.8 812.3L190.4 811.2L190.0 809.6L189.6 807.3L189.2 809.9L188.8 811.7L188.4 812.8L188.0 813.7L187.6 814.2L187.2 813.7L186.8 813.9L186.4 814.0L186.0 815.3L185.6 815.3L185.2 815.1L184.8 814.8L184.4 814.4L184.0 813.9L183.6 813.0L183.2 811.7L182.8 810.0L182.4 807.4L182.0 809.7L181.6 811.3L181.2 812.4L180.8 813.1L180.4 813.6L180.0 813.8L179.6 814.0L179.2 814.1L178.8 814.0L178.4 814.0L178.0 813.8L177.6 813.5L177.2 813.0L176.8 812.4L176.4 811.9L176.0 810.4L175.6 808.2L175.2 809.4L174.8 811.2L174.4 812.4L174.0 812.4L173.6 813.0L173.2 813.3L172.8 813.5L172.4 813.6L171.6 813.6L171.2 813.5L170.8 813.2L170.4 812.6L170.0 812.1L169.6 811.3L169.2 810.8L168.8 808.8L168.4 809.9L168.0 811.6L167.6 812.8L167.2 813.6L166.8 812.6L166.4 812.9L166.0 813.1L165.6 813.1L165.2 813.1L164.8 813.1L164.4 814.7L164.0 814.3L163.6 813.7L163.2 812.9L162.8 811.7L162.4 809.9L162.0 809.5L161.6 810.6L161.2 811.3L160.8 811.8L160.4 812.2L160.0 812.4L159.6 813.5L159.2 813.6L158.8 813.6L158.4 813.7L158.0 813.6L157.6 813.4L157.2 812.7L156.8 812.4L156.4 811.8L156.0 811.4L155.6 809.9L155.2 811.4L154.8 812.0L154.4 812.6L154.0 813.0L153.6 813.4L153.2 813.6L152.8 813.7L152.4 813.8L152.0 813.8L151.6 813.7L151.2 814.2L150.8 813.8L150.4 813.2L150.0 812.4L149.6 811.1L149.2 812.4L148.8 813.4L148.4 814.0L148.0 814.4L147.6 813.7L147.2 813.8L146.8 813.8L146.4 813.9L146.0 813.8L145.6 813.7L145.2 813.7L144.8 813.2L144.4 812.4L144.0 812.8L143.6 813.5L143.2 814.0L142.8 814.8L142.4 815.1L142.0 815.3L141.6 816.2L141.2 816.4L140.8 816.4L139.6 816.5L139.2 817.0L138.4 817.0L138.0 817.1L137.2 817.1L136.8 817.2L136.0 817.2L135.6 817.0L134.8 817.0L134.4 816.0L133.6 816.0L133.2 816.2L132.4 816.2L132.0 816.7L131.2 816.7L130.8 817.9L130.0 817.9L129.6 818.0L128.8 818.0L128.4 817.8L127.6 817.8L127.2 817.9L126.4 817.9L126.0 818.1L125.2 818.1L124.8 817.6L124.0 817.6L123.6 817.7L122.8 817.7L122.4 818.2L121.6 818.2L121.2 818.3L120.4 818.3L120.0 818.4L119.2 818.4L118.8 818.3L118.0 818.3L117.6 818.7L116.8 818.7L116.4 818.9L115.6 818.9L115.2 819.0L114.4 819.0L114.0 819.4L113.2 819.4L112.8 819.5L112.0 819.5L111.6 819.7L110.8 819.7L110.4 821.7L36.0 821.7Z" fill="#000"/>
<rect x="36.2" y="820.1" width="971" height="2.3" fill="#000"/><rect x="45.1" y="821.2" width="2" height="2.3" fill="#000"/><rect x="76.0" y="821.2" width="2" height="2.3" fill="#000"/><rect x="106.8" y="821.2" width="2" height="2.3" fill="#000"/><rect x="137.7" y="821.2" width="2" height="2.3" fill="#000"/><rect x="168.5" y="821.2" width="2" height="2.3" fill="#000"/><rect x="199.3" y="821.2" width="2" height="2.3" fill="#000"/><rect x="230.2" y="821.2" width="2" height="2.3" fill="#000"/><rect x="261.1" y="821.2" width="2" height="2.3" fill="#000"/><rect x="291.9" y="821.2" width="2" height="2.3" fill="#000"/><rect x="322.8" y="821.2" width="2" height="2.3" fill="#000"/><rect x="353.6" y="821.2" width="2" height="2.3" fill="#000"/><rect x="384.5" y="821.2" width="2" height="2.3" fill="#000"/><rect x="415.3" y="821.2" width="2" height="2.3" fill="#000"/><rect x="446.2" y="821.2" width="2" height="2.3" fill="#000"/><rect x="477.0" y="821.2" width="2" height="2.3" fill="#000"/><rect x="507.9" y="821.2" width="2" height="2.3" fill="#000"/><rect x="538.7" y="821.2" width="2" height="2.3" fill="#000"/><rect x="569.6" y="821.2" width="2" height="2.3" fill="#000"/><rect x="600.4" y="821.2" width="2" height="2.3" fill="#000"/><rect x="631.2" y="821.2" width="2" height="2.3" fill="#000"/><rect x="662.1" y="821.2" width="2" height="2.3" fill="#000"/><rect x="693.0" y="821.2" width="2" height="2.3" fill="#000"/><rect x="723.8" y="821.2" width="2" height="2.3" fill="#000"/><rect x="754.7" y="821.2" width="2" height="2.3" fill="#000"/><rect x="785.5" y="821.2" width="2" height="2.3" fill="#000"/><rect x="816.4" y="821.2" width="2" height="2.3" fill="#000"/><rect x="847.2" y="821.2" width="2" height="2.3" fill="#000"/><rect x="878.1" y="821.2" width="2" height="2.3" fill="#000"/><rect x="908.9" y="821.2" width="2" height="2.3" fill="#000"/><rect x="939.8" y="821.2" width="2" height="2.3" fill="#000"/><rect x="970.6" y="821.2" width="2" height="2.3" fill="#000"/><rect x="1001.5" y="821.2" width="2" height="2.3" fill="#000"/>
<g font-family="'Liberation Sans', Arial, Helvetica, sans-serif" fill="#000" text-rendering="geometricPrecision">
<text y="26.0"><tspan x="168.4" font-size="37.2" letter-spacing="-0.45">36</tspan><tspan x="209.2" dy="-0.9" font-size="34.8">+</tspan></text>
<text y="145.5"><tspan x="294.8" font-size="37.2" letter-spacing="-0.45">25</tspan><tspan x="335.6" dy="-0.9" font-size="34.8">+</tspan></text>
<text y="319.6"><tspan x="-1.7" font-size="37.2" letter-spacing="-0.45">39</tspan><tspan x="39.1" dy="-0.9" font-size="34.8">+</tspan></text>
<text y="432.7"><tspan x="283.9" font-size="37.2" letter-spacing="-0.45">25</tspan><tspan x="324.7" dy="-0.9" font-size="34.8">+</tspan></text>
<text y="592.9"><tspan x="475.7" font-size="37.2" letter-spacing="-0.45">28</tspan><tspan x="516.5" dy="-0.9" font-size="34.8">+</tspan></text>
<text y="667.0"><tspan x="138.5" font-size="37.2" letter-spacing="-0.45">45</tspan><tspan x="179.3" dy="-0.9" font-size="34.8">+</tspan></text>
<text transform="translate(1005.5 100.3) scale(1 1)" font-size="50.6" text-rendering="geometricPrecision" font-weight="bold" text-anchor="end" letter-spacing="0.3">(a)</text>
<text transform="translate(1005.5 374.3) scale(1 1)" font-size="50.6" text-rendering="geometricPrecision" font-weight="bold" text-anchor="end" letter-spacing="0.3">(b)</text>
<text transform="translate(1005.5 647.7) scale(1 1)" font-size="50.6" text-rendering="geometricPrecision" font-weight="bold" text-anchor="end" letter-spacing="0.3">(c)</text>
<text transform="translate(23.8 862.9) scale(0.945 1)" font-size="43.2" letter-spacing="-0.45">600</text>
<text transform="translate(144.7 862.9) scale(0.945 1)" font-size="43.2" letter-spacing="-0.45">1000</text>
<rect x="146.6" y="859.0" width="8.1" height="4.8" fill="#fff"/><rect x="158.7" y="859.0" width="7.4" height="4.8" fill="#fff"/>
<text transform="translate(267.8 862.9) scale(0.945 1)" font-size="43.2" letter-spacing="-0.45">1400</text>
<rect x="269.7" y="859.0" width="8.1" height="4.8" fill="#fff"/><rect x="281.8" y="859.0" width="7.4" height="4.8" fill="#fff"/>
<text transform="translate(390.6 862.9) scale(0.945 1)" font-size="43.2" letter-spacing="-0.45">1800</text>
<rect x="392.5" y="859.0" width="8.1" height="4.8" fill="#fff"/><rect x="404.6" y="859.0" width="7.4" height="4.8" fill="#fff"/>
<text transform="translate(513.8 862.9) scale(0.945 1)" font-size="43.2" letter-spacing="-0.45">2200</text>
<text transform="translate(636.9 862.9) scale(0.945 1)" font-size="43.2" letter-spacing="-0.45">2600</text>
<text transform="translate(760.7 862.9) scale(0.945 1)" font-size="43.2" letter-spacing="-0.45">3000</text>
<text transform="translate(883.5 862.9) scale(0.945 1)" font-size="43.2" letter-spacing="-0.45">3400</text>
<text x="487.3" y="904.2" font-size="39.3" text-anchor="start" font-style="italic">m/z</text>
</g>
<g fill="none" stroke="#4a7ebb" filter="url(#sh)"><path d="M67.0 305.8 L136.0 305.8" stroke-width="4.2"/><path d="M126.2 299.2 L137.0 305.8 L126.2 312.2" stroke-width="4.8" stroke-linecap="round" stroke-linejoin="miter" stroke-miterlimit="6"/></g>
<g fill="none" stroke="#4a7ebb" filter="url(#sh)"><path d="M462.4 572.2 L393.6 572.2" stroke-width="4.2"/><path d="M403.4 565.7 L392.6 572.2 L403.4 578.7" stroke-width="4.8" stroke-linecap="round" stroke-linejoin="miter" stroke-miterlimit="6"/></g>
</svg></body></html>
